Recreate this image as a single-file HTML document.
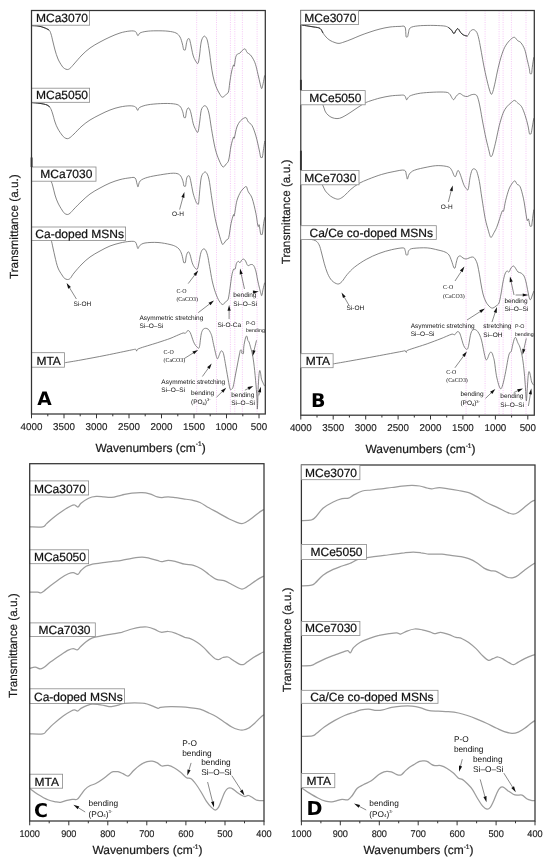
<!DOCTYPE html>
<html lang="en"><head><meta charset="utf-8"><title>FTIR spectra</title>
<style>
html,body{margin:0;padding:0;background:#fff;}
svg{display:block;}
</style></head><body>
<svg width="550" height="862" viewBox="0 0 550 862" text-rendering="geometricPrecision">
<rect x="0" y="0" width="550" height="862" fill="#fff"/>
<line x1="196.7" y1="10.5" x2="196.7" y2="414.0" stroke="#f5c2f5" stroke-width="0.9" stroke-dasharray="1 1.3"/>
<line x1="216.5" y1="10.5" x2="216.5" y2="414.0" stroke="#f5c2f5" stroke-width="0.9" stroke-dasharray="1 1.3"/>
<line x1="230.4" y1="10.5" x2="230.4" y2="414.0" stroke="#f5c2f5" stroke-width="0.9" stroke-dasharray="1 1.3"/>
<line x1="234.8" y1="10.5" x2="234.8" y2="414.0" stroke="#f5c2f5" stroke-width="0.9" stroke-dasharray="1 1.3"/>
<line x1="242.4" y1="10.5" x2="242.4" y2="414.0" stroke="#f5c2f5" stroke-width="0.9" stroke-dasharray="1 1.3"/>
<line x1="257.1" y1="10.5" x2="257.1" y2="414.0" stroke="#f5c2f5" stroke-width="0.9" stroke-dasharray="1 1.3"/>
<path d="M31.6 25.6C32.7 25.7 35.9 25.7 38.0 26.0C40.1 26.3 42.2 26.9 44.0 27.6C45.8 28.3 47.8 28.9 49.0 30.0C50.2 31.1 50.3 32.0 51.0 34.0C51.7 36.0 52.3 39.3 53.0 42.0C53.7 44.7 54.2 47.2 55.0 50.0C55.8 52.8 56.8 56.3 58.0 59.0C59.2 61.7 60.9 64.4 62.0 66.0C63.1 67.6 63.6 67.9 64.5 68.5C65.4 69.1 66.4 69.5 67.3 69.5C68.2 69.5 68.9 69.3 70.0 68.4C71.1 67.5 72.0 66.2 74.0 64.0C76.0 61.8 79.3 57.7 82.0 55.0C84.7 52.3 87.0 50.2 90.0 48.0C93.0 45.8 96.7 43.8 100.0 42.0C103.3 40.2 106.7 38.5 110.0 37.0C113.3 35.5 116.7 34.0 120.0 33.0C123.3 32.0 127.4 31.2 130.0 31.0C132.6 30.8 134.2 30.8 135.5 31.6C136.8 32.4 137.1 35.4 137.8 35.6C138.6 35.8 138.6 33.7 140.0 33.0C141.4 32.3 143.3 31.8 146.0 31.4C148.7 31.0 152.3 30.8 156.0 30.8C159.7 30.8 164.7 30.8 168.0 31.2C171.3 31.6 174.0 32.0 176.0 33.0C178.0 34.0 178.9 35.2 180.0 37.0C181.1 38.8 181.8 41.9 182.4 44.0C183.0 46.1 183.2 48.5 183.6 49.5C183.9 50.5 184.2 50.0 184.5 50.0C184.8 50.0 185.1 50.8 185.4 49.5C185.8 48.3 186.2 44.2 186.6 42.5C187.0 40.8 187.4 39.8 187.7 39.2C188.0 38.5 188.3 38.7 188.6 38.7C188.9 38.7 189.2 38.4 189.5 39.2C189.8 40.0 190.0 40.9 190.6 43.5C191.2 46.1 192.2 52.1 193.0 55.0C193.8 57.9 194.8 59.6 195.6 61.0C196.4 62.4 197.3 64.3 198.0 63.3C198.7 62.3 199.1 58.5 199.6 55.0C200.1 51.5 200.5 45.1 201.2 42.0C201.8 38.9 202.8 37.5 203.5 36.6C204.2 35.7 204.8 36.1 205.5 36.8C206.2 37.5 206.9 38.6 207.5 41.0C208.1 43.4 208.7 47.2 209.3 51.0C209.9 54.8 210.4 59.8 211.0 64.0C211.6 68.2 212.2 72.2 213.0 76.0C213.8 79.8 214.8 83.4 216.0 86.5C217.2 89.6 218.9 92.7 220.0 94.5C221.1 96.3 221.5 97.1 222.4 97.2C223.3 97.3 224.5 95.9 225.5 95.0C226.5 94.1 227.7 94.0 228.4 92.0C229.1 90.0 229.2 86.3 229.7 83.0C230.2 79.7 230.9 75.0 231.5 72.0C232.1 69.0 233.0 66.0 233.5 65.0C234.0 64.0 234.0 67.2 234.3 66.0C234.7 64.8 235.1 59.6 235.6 57.6C236.1 55.6 236.8 54.7 237.5 54.0C238.2 53.3 238.9 53.9 239.7 53.3C240.5 52.7 241.3 51.2 242.2 50.5C243.1 49.8 244.3 48.6 245.1 48.9C245.9 49.2 246.2 51.5 247.1 52.5C248.0 53.5 249.3 53.7 250.4 54.9C251.5 56.1 252.6 57.9 253.6 59.8C254.6 61.7 255.3 63.5 256.1 66.4C256.9 69.3 257.8 73.7 258.6 77.0C259.4 80.3 260.2 84.1 260.7 86.0C261.2 87.9 261.4 88.9 261.8 88.5C262.2 88.1 262.6 85.8 263.1 83.6C263.6 81.4 264.4 76.8 264.6 75.4" fill="none" stroke="#666" stroke-width="0.8" stroke-linejoin="round"/>
<path d="M31.6 102.6C33.0 102.7 37.4 103.0 40.0 103.4C42.6 103.8 45.3 104.3 47.0 105.0C48.7 105.7 49.1 106.1 50.0 107.4C50.9 108.7 51.6 110.6 52.4 113.0C53.2 115.4 54.1 119.3 55.0 122.0C55.9 124.7 56.8 126.8 58.0 129.0C59.2 131.2 60.9 133.6 62.0 135.0C63.1 136.4 63.6 137.0 64.5 137.6C65.4 138.2 66.4 138.7 67.3 138.7C68.2 138.7 68.9 138.4 70.0 137.6C71.1 136.8 72.0 135.9 74.0 134.0C76.0 132.1 79.3 128.3 82.0 126.0C84.7 123.7 87.0 121.9 90.0 120.0C93.0 118.1 96.7 116.3 100.0 114.6C103.3 112.9 106.7 111.3 110.0 110.0C113.3 108.7 116.7 107.7 120.0 107.0C123.3 106.3 127.4 105.8 130.0 105.8C132.6 105.8 134.3 106.2 135.6 107.0C136.9 107.8 137.0 110.3 137.7 110.4C138.4 110.5 138.0 108.3 139.7 107.4C141.4 106.5 144.3 105.4 147.8 104.8C151.3 104.2 156.2 103.8 160.5 103.6C164.8 103.4 170.1 103.4 173.3 103.8C176.5 104.2 178.0 104.6 179.6 105.9C181.2 107.2 182.0 109.8 182.7 111.7C183.4 113.6 183.5 116.2 183.8 117.1C184.1 118.1 184.4 117.6 184.7 117.6C185.0 117.6 185.3 118.3 185.6 117.1C185.9 115.9 186.2 111.9 186.7 110.4C187.2 108.9 187.8 107.7 188.5 107.9C189.2 108.1 189.8 109.2 190.6 111.7C191.4 114.2 192.3 120.2 193.1 123.2C193.9 126.2 194.8 128.0 195.6 129.5C196.4 131.0 197.2 133.2 197.9 132.1C198.6 131.0 198.9 126.8 199.5 123.2C200.1 119.6 200.5 113.2 201.2 110.4C201.9 107.6 203.0 106.7 203.8 106.1C204.7 105.5 205.5 105.4 206.3 106.6C207.2 107.8 208.1 109.4 208.9 113.0C209.8 116.6 210.4 122.4 211.4 128.3C212.4 134.2 213.9 143.3 215.2 148.6C216.5 153.9 217.7 156.9 219.0 160.0C220.3 163.1 221.7 166.2 222.9 166.9C224.1 167.6 225.2 165.1 226.2 163.9C227.2 162.8 227.9 163.0 228.7 160.0C229.5 157.0 230.2 149.8 231.0 146.0C231.8 142.2 232.9 138.5 233.5 137.2C234.1 135.9 233.7 139.7 234.3 138.0C234.9 136.3 235.8 129.9 236.9 127.0C238.0 124.1 239.2 122.2 240.7 120.6C242.2 119.0 244.5 117.4 245.8 117.6C247.1 117.8 247.2 120.6 248.3 121.9C249.4 123.2 250.8 123.4 252.1 125.7C253.4 128.0 254.7 131.9 255.9 135.9C257.1 139.9 258.4 146.4 259.2 149.9C260.0 153.4 260.2 155.8 260.6 157.1C261.0 158.3 261.2 157.5 261.5 157.5C261.8 157.5 262.0 158.5 262.4 157.1C262.8 155.6 263.2 151.3 263.6 148.6C264.0 145.9 264.6 142.3 264.8 141.0" fill="none" stroke="#666" stroke-width="0.8" stroke-linejoin="round"/>
<path d="M47.0 177.5C47.7 178.1 50.0 179.4 51.0 181.0C52.0 182.6 52.3 184.7 53.0 187.0C53.7 189.3 54.2 192.3 55.0 195.0C55.8 197.7 56.8 200.5 58.0 203.0C59.2 205.5 60.9 208.3 62.0 210.0C63.1 211.7 63.6 212.6 64.5 213.3C65.4 214.1 66.4 214.5 67.3 214.5C68.2 214.5 68.9 214.2 70.0 213.3C71.1 212.4 72.0 211.1 74.0 209.0C76.0 206.9 79.3 203.5 82.0 201.0C84.7 198.5 87.0 196.2 90.0 194.0C93.0 191.8 96.7 189.8 100.0 188.0C103.3 186.2 106.7 184.4 110.0 183.0C113.3 181.6 116.7 180.5 120.0 179.6C123.3 178.7 127.5 178.1 130.0 177.8C132.5 177.5 133.9 176.9 135.1 178.0C136.3 179.1 136.6 182.8 137.1 184.2C137.6 185.6 137.6 187.2 138.1 186.7C138.6 186.1 138.6 182.5 140.2 180.9C141.8 179.3 144.4 178.3 147.8 177.3C151.2 176.3 156.2 175.5 160.5 174.8C164.8 174.1 170.1 173.2 173.3 173.2C176.5 173.2 178.0 173.6 179.6 174.8C181.2 176.0 182.0 178.6 182.7 180.4C183.4 182.2 183.5 184.8 183.8 185.8C184.1 186.7 184.4 186.2 184.7 186.2C185.0 186.2 185.3 186.9 185.6 185.8C185.9 184.6 186.2 180.7 186.5 179.1C186.8 177.5 187.3 176.8 187.6 176.2C187.9 175.7 188.2 175.8 188.5 175.8C188.8 175.8 189.1 175.5 189.4 176.2C189.8 177.0 190.0 177.6 190.6 180.4C191.2 183.2 192.3 189.7 193.1 193.1C193.9 196.5 195.0 199.0 195.6 200.7C196.2 202.4 196.4 202.8 196.8 203.4C197.1 203.9 197.4 203.8 197.7 203.8C198.0 203.8 198.3 205.1 198.6 203.4C198.9 201.6 199.1 197.4 199.5 193.1C199.9 188.8 200.5 181.2 201.2 177.8C201.9 174.4 203.0 173.5 203.8 172.7C204.7 171.8 205.5 171.6 206.3 172.7C207.2 173.8 208.1 175.3 208.9 179.1C209.8 182.9 210.4 189.0 211.4 195.6C212.4 202.2 213.9 212.1 215.2 218.5C216.5 224.9 217.9 229.6 219.0 233.8C220.1 238.0 221.3 241.9 222.0 243.6C222.7 245.2 222.6 244.0 222.9 244.0C223.2 244.0 223.2 244.2 223.8 243.6C224.4 242.9 225.4 241.2 226.2 240.2C227.0 239.2 227.9 240.4 228.7 237.6C229.5 234.8 230.2 227.4 231.0 223.6C231.8 219.8 232.9 216.0 233.5 214.7C234.1 213.3 233.7 217.8 234.3 215.5C234.9 213.2 235.8 204.6 236.9 200.7C238.0 196.8 239.4 194.1 240.7 191.8C242.0 189.5 244.1 188.0 244.9 187.1C245.8 186.3 245.5 186.7 245.8 186.7C246.1 186.7 246.3 186.3 246.7 187.1C247.1 188.0 247.4 190.0 248.3 191.8C249.2 193.6 250.8 194.6 252.1 198.2C253.4 201.8 254.9 208.7 255.9 213.4C256.9 218.1 257.4 224.3 258.0 226.2C258.6 228.1 258.8 223.6 259.2 224.9C259.6 226.2 260.2 232.3 260.6 233.9C261.0 235.4 261.2 234.3 261.5 234.3C261.8 234.3 262.0 235.6 262.4 233.9C262.8 232.1 263.2 226.4 263.6 223.6C264.0 220.8 264.6 218.4 264.8 217.3" fill="none" stroke="#666" stroke-width="0.8" stroke-linejoin="round"/>
<path d="M47.0 236.0C47.7 236.7 50.0 238.0 51.0 240.0C52.0 242.0 52.3 245.2 53.0 248.0C53.7 250.8 54.2 253.7 55.0 257.0C55.8 260.3 56.8 265.0 58.0 268.0C59.2 271.0 60.9 273.3 62.0 275.0C63.1 276.7 63.6 277.6 64.5 278.3C65.4 279.1 66.5 279.5 67.5 279.5C68.5 279.5 69.2 279.4 70.3 278.3C71.4 277.2 72.0 275.4 74.0 273.0C76.0 270.6 79.3 266.7 82.0 264.0C84.7 261.3 87.0 259.2 90.0 257.0C93.0 254.8 96.7 252.8 100.0 251.0C103.3 249.2 106.7 247.3 110.0 246.0C113.3 244.7 116.7 243.8 120.0 243.0C123.3 242.2 127.4 241.5 130.0 241.4C132.6 241.3 134.2 241.0 135.5 242.2C136.8 243.4 137.1 247.9 137.8 248.5C138.5 249.1 138.6 246.4 139.8 245.5C141.0 244.6 142.0 243.5 145.0 243.0C148.0 242.5 153.8 242.2 158.0 242.5C162.2 242.8 167.1 243.8 170.0 244.5C172.9 245.2 174.0 245.6 175.5 246.4C177.0 247.2 178.0 247.8 179.1 249.1C180.2 250.4 181.1 252.3 181.8 254.5C182.6 256.7 183.2 260.9 183.6 262.2C184.0 263.6 184.2 262.7 184.5 262.7C184.8 262.7 185.1 263.4 185.4 262.2C185.7 261.1 185.9 257.2 186.4 255.5C186.9 253.8 187.6 252.0 188.2 251.8C188.8 251.6 189.3 252.7 190.0 254.5C190.7 256.3 191.4 260.6 192.2 262.7C192.9 264.8 193.7 266.2 194.5 267.3C195.3 268.4 196.5 270.0 197.3 269.1C198.1 268.2 198.5 264.5 199.1 261.8C199.7 259.1 200.2 254.8 200.9 252.7C201.6 250.6 202.3 249.5 203.1 249.1C203.9 248.7 204.8 248.9 205.5 250.0C206.2 251.1 206.9 252.8 207.6 255.5C208.3 258.2 208.8 262.2 209.6 266.4C210.4 270.6 211.2 276.5 212.2 280.9C213.2 285.3 214.3 289.4 215.5 292.7C216.7 296.0 217.9 298.9 219.1 300.9C220.3 302.9 221.6 304.4 222.7 304.5C223.8 304.6 224.6 302.7 225.5 301.8C226.4 300.9 227.4 301.4 228.2 299.1C228.9 296.8 229.4 292.1 230.0 288.2C230.6 284.3 231.2 278.7 231.8 275.5C232.4 272.3 233.1 270.2 233.6 269.1C234.1 268.0 234.6 270.0 235.1 269.1C235.6 268.2 235.9 264.9 236.4 263.6C236.9 262.3 237.6 261.5 238.2 261.3C238.8 261.1 239.4 262.9 240.0 262.7C240.6 262.5 241.2 260.6 241.8 260.0C242.4 259.4 243.0 259.0 243.6 259.1C244.2 259.2 244.8 259.8 245.5 260.9C246.2 262.0 246.9 264.9 247.8 265.5C248.7 266.1 249.9 264.5 250.9 264.5C251.9 264.5 252.8 264.4 253.6 265.5C254.4 266.6 255.1 268.5 255.8 270.9C256.5 273.3 257.0 277.1 257.6 280.0C258.2 282.9 258.9 285.9 259.5 288.2C260.1 290.5 260.5 292.4 260.9 293.6C261.3 294.8 261.4 296.2 261.8 295.5C262.2 294.8 262.6 291.2 263.1 289.1C263.6 287.0 264.4 283.8 264.6 282.7" fill="none" stroke="#666" stroke-width="0.8" stroke-linejoin="round"/>
<path d="M64.4 362.8C67.2 362.3 73.9 361.3 80.9 360.0C87.9 358.7 97.8 356.9 106.3 355.2C114.8 353.5 126.9 350.9 131.8 349.9C136.7 348.9 134.8 349.2 135.6 349.4C136.4 349.6 136.3 351.2 136.9 351.1C137.5 351.0 135.5 350.0 138.9 348.6C142.3 347.2 152.0 344.5 157.2 342.8C162.4 341.1 166.8 339.7 170.0 338.5C173.2 337.3 174.3 336.6 176.5 335.7C178.7 334.8 181.6 333.4 183.1 333.0C184.6 332.6 184.7 333.7 185.3 333.4C185.9 333.1 186.4 331.9 186.9 331.4C187.4 330.9 187.9 330.4 188.5 330.6C189.1 330.8 189.6 331.5 190.2 332.5C190.8 333.5 191.2 335.3 191.8 336.8C192.4 338.3 192.9 340.2 193.5 341.7C194.1 343.1 194.9 344.5 195.6 345.5C196.3 346.5 197.2 347.2 197.8 347.7C198.4 348.1 198.6 348.6 198.9 348.2C199.2 347.8 199.4 347.0 199.7 345.5C200.0 344.0 200.2 341.2 200.5 339.0C200.8 336.8 201.1 334.1 201.6 332.5C202.1 330.9 202.7 329.9 203.3 329.2C204.0 328.5 204.7 328.3 205.5 328.3C206.3 328.3 207.4 328.5 208.2 329.2C209.0 329.9 209.8 331.2 210.4 332.5C211.0 333.8 211.5 334.8 212.0 336.8C212.5 338.8 213.0 341.9 213.6 344.5C214.2 347.1 214.8 349.9 215.3 352.1C215.8 354.3 216.3 356.4 216.7 357.5C217.1 358.6 217.4 359.0 217.8 358.6C218.2 358.2 218.6 356.6 219.1 355.4C219.6 354.2 220.2 352.2 220.7 351.5C221.2 350.8 221.6 350.6 222.1 351.0C222.6 351.4 223.1 352.4 223.5 353.7C223.9 355.0 224.1 356.6 224.5 358.6C224.9 360.7 225.1 362.0 225.8 366.0C226.5 370.0 228.0 378.8 228.7 382.6C229.4 386.4 229.7 387.8 230.1 388.9C230.5 390.1 230.7 389.4 231.0 389.4C231.3 389.4 231.5 389.5 231.9 388.9C232.3 388.4 232.6 389.1 233.3 386.1C234.0 383.1 235.2 376.0 236.2 371.0C237.2 366.0 238.4 359.4 239.1 356.0C239.8 352.6 239.9 351.6 240.2 350.6C240.5 349.7 240.8 350.2 241.1 350.2C241.4 350.2 241.9 350.2 242.0 350.6C242.1 351.1 241.6 352.7 241.7 353.2C241.8 353.6 242.3 353.6 242.6 353.6C242.9 353.6 243.3 354.3 243.5 353.2C243.7 352.0 243.5 349.2 243.8 346.7C244.1 344.2 245.0 339.8 245.5 338.0C246.0 336.2 246.5 335.8 246.9 336.2C247.3 336.6 247.5 339.3 247.8 340.3C248.2 341.3 248.5 340.8 249.0 342.0C249.5 343.2 250.1 345.7 250.7 347.8C251.3 349.9 251.9 351.7 252.5 354.8C253.1 357.9 253.6 361.4 254.2 366.4C254.8 371.4 255.5 379.2 256.0 385.0C256.5 390.8 256.9 397.2 257.1 401.2C257.3 405.1 257.2 410.6 257.4 408.7C257.6 406.8 257.9 395.1 258.1 389.6C258.4 384.1 258.6 378.9 258.9 375.7C259.2 372.5 259.4 370.9 259.7 370.5C260.0 370.1 260.3 371.9 260.6 373.4C260.9 374.8 261.1 377.7 261.5 379.2C261.9 380.7 262.4 381.5 262.9 382.6C263.4 383.8 264.3 385.5 264.6 386.1" fill="none" stroke="#666" stroke-width="0.8" stroke-linejoin="round"/>
<path d="M31.6 25.6C32.7 25.7 35.9 25.7 38.0 26.0C40.1 26.3 42.2 26.9 44.0 27.6C45.8 28.3 48.2 29.6 49.0 30.0" fill="none" stroke="#2a2a2a" stroke-width="0.9" stroke-linejoin="round"/>
<path d="M31.6 102.6C33.0 102.7 37.4 103.0 40.0 103.4C42.6 103.8 45.3 104.3 47.0 105.0C48.7 105.7 49.5 107.0 50.0 107.4" fill="none" stroke="#2a2a2a" stroke-width="0.9" stroke-linejoin="round"/>
<rect x="31.5" y="10.5" width="58.1" height="14.7" fill="#fff" stroke="#8a8a8a" stroke-width="0.8"/>
<text x="36.0" y="22.2" font-family="&quot;Liberation Sans&quot;, Arial, sans-serif" font-size="12.0" font-weight="normal" text-anchor="start" fill="#111" letter-spacing="0" stroke="#111" stroke-width="0.22">MCa3070</text>
<rect x="31.5" y="88.2" width="58.1" height="14.1" fill="#fff" stroke="#8a8a8a" stroke-width="0.8"/>
<text x="36.0" y="99.1" font-family="&quot;Liberation Sans&quot;, Arial, sans-serif" font-size="12.0" font-weight="normal" text-anchor="start" fill="#111" letter-spacing="0" stroke="#111" stroke-width="0.22">MCa5050</text>
<rect x="31.5" y="167.0" width="64.5" height="14.2" fill="#fff" stroke="#8a8a8a" stroke-width="0.8"/>
<text x="40.3" y="178.4" font-family="&quot;Liberation Sans&quot;, Arial, sans-serif" font-size="12.0" font-weight="normal" text-anchor="start" fill="#111" letter-spacing="0" stroke="#111" stroke-width="0.22">MCa7030</text>
<rect x="31.5" y="227.0" width="94.1" height="13.4" fill="#fff" stroke="#8a8a8a" stroke-width="0.8"/>
<text x="35.3" y="237.5" font-family="&quot;Liberation Sans&quot;, Arial, sans-serif" font-size="12.0" font-weight="normal" text-anchor="start" fill="#111" letter-spacing="0" stroke="#111" stroke-width="0.22">Ca-doped MSNs</text>
<rect x="31.5" y="352.7" width="32.9" height="14.5" fill="#fff" stroke="#8a8a8a" stroke-width="0.8"/>
<text x="36.4" y="364.5" font-family="&quot;Liberation Sans&quot;, Arial, sans-serif" font-size="12.0" font-weight="normal" text-anchor="start" fill="#111" letter-spacing="0" stroke="#111" stroke-width="0.22">MTA</text>
<text x="172.0" y="216.2" font-family="&quot;Liberation Sans&quot;, Arial, sans-serif" font-size="6.5" font-weight="normal" text-anchor="start" fill="#111" >O-H</text>
<line x1="179.6" y1="209.6" x2="182.9" y2="197.5" stroke="#3a3a3a" stroke-width="0.6"/>
<polygon points="184.4,192.0 184.4,197.9 181.4,197.1" fill="#111"/>
<text x="73.6" y="306.0" font-family="&quot;Liberation Sans&quot;, Arial, sans-serif" font-size="6.5" font-weight="normal" text-anchor="start" fill="#111" >Si-OH</text>
<line x1="76.4" y1="299.0" x2="69.6" y2="287.9" stroke="#3a3a3a" stroke-width="0.6"/>
<polygon points="66.6,283.0 70.9,287.0 68.2,288.7" fill="#111"/>
<text x="176.4" y="293.0" font-family="&quot;Liberation Serif&quot;, serif" font-size="5.9" font-weight="normal" text-anchor="start" fill="#111" >C-O</text>
<text x="176.4" y="300.7" font-family="&quot;Liberation Serif&quot;, serif" font-size="5.9" font-weight="normal" text-anchor="start" fill="#111" >(CaCO3)</text>
<line x1="188.2" y1="283.6" x2="194.8" y2="274.9" stroke="#3a3a3a" stroke-width="0.6"/>
<polygon points="198.2,270.4 196.0,275.9 193.5,274.0" fill="#111"/>
<text x="139.4" y="320.2" font-family="&quot;Liberation Sans&quot;, Arial, sans-serif" font-size="6.5" font-weight="normal" text-anchor="start" fill="#111" >Asymmetric stretching</text>
<text x="139.4" y="328.2" font-family="&quot;Liberation Sans&quot;, Arial, sans-serif" font-size="6.5" font-weight="normal" text-anchor="start" fill="#111" >Si–O–Si</text>
<line x1="198.2" y1="312.7" x2="209.5" y2="304.0" stroke="#3a3a3a" stroke-width="0.6"/>
<polygon points="214.0,300.5 210.5,305.3 208.5,302.7" fill="#111"/>
<text x="217.6" y="326.6" font-family="&quot;Liberation Sans&quot;, Arial, sans-serif" font-size="6.5" font-weight="normal" text-anchor="start" fill="#111" >Si-O-Ca</text>
<line x1="229.1" y1="319.1" x2="229.1" y2="310.7" stroke="#3a3a3a" stroke-width="0.6"/>
<polygon points="229.1,305.0 230.7,310.7 227.5,310.7" fill="#111"/>
<text x="233.3" y="297.2" font-family="&quot;Liberation Sans&quot;, Arial, sans-serif" font-size="6.5" font-weight="normal" text-anchor="start" fill="#111" >bending</text>
<text x="233.3" y="305.8" font-family="&quot;Liberation Sans&quot;, Arial, sans-serif" font-size="6.5" font-weight="normal" text-anchor="start" fill="#111" >Si–O–Si</text>
<line x1="244.5" y1="289.0" x2="241.2" y2="274.1" stroke="#3a3a3a" stroke-width="0.6"/>
<polygon points="240.0,268.5 242.8,273.7 239.7,274.4" fill="#111"/>
<line x1="252.7" y1="292.2" x2="253.0" y2="292.2" stroke="#3a3a3a" stroke-width="0.6"/>
<polygon points="258.7,291.5 253.2,293.7 252.9,290.6" fill="#111"/>
<text x="246.0" y="325.0" font-family="&quot;Liberation Sans&quot;, Arial, sans-serif" font-size="5.3" font-weight="normal" text-anchor="start" fill="#111" >P-O</text>
<text x="246.0" y="332.3" font-family="&quot;Liberation Sans&quot;, Arial, sans-serif" font-size="5.3" font-weight="normal" text-anchor="start" fill="#111" >bending</text>
<line x1="256.5" y1="340.3" x2="254.0" y2="350.5" stroke="#3a3a3a" stroke-width="0.6"/>
<polygon points="252.7,356.0 252.5,350.1 255.6,350.8" fill="#111"/>
<text x="163.5" y="354.0" font-family="&quot;Liberation Serif&quot;, serif" font-size="5.9" font-weight="normal" text-anchor="start" fill="#111" >C-O</text>
<text x="163.5" y="362.2" font-family="&quot;Liberation Serif&quot;, serif" font-size="5.9" font-weight="normal" text-anchor="start" fill="#111" >(CaCO3)</text>
<line x1="184.2" y1="358.6" x2="193.3" y2="352.9" stroke="#3a3a3a" stroke-width="0.6"/>
<polygon points="198.1,349.9 194.1,354.3 192.4,351.6" fill="#111"/>
<text x="161.3" y="383.8" font-family="&quot;Liberation Sans&quot;, Arial, sans-serif" font-size="6.5" font-weight="normal" text-anchor="start" fill="#111" >Asymmetric stretching</text>
<text x="161.3" y="391.8" font-family="&quot;Liberation Sans&quot;, Arial, sans-serif" font-size="6.5" font-weight="normal" text-anchor="start" fill="#111" >Si–O–Si</text>
<line x1="202.4" y1="376.5" x2="208.4" y2="368.1" stroke="#3a3a3a" stroke-width="0.6"/>
<polygon points="211.7,363.5 209.7,369.1 207.1,367.2" fill="#111"/>
<text x="191.0" y="395.1" font-family="&quot;Liberation Sans&quot;, Arial, sans-serif" font-size="6.5" font-weight="normal" text-anchor="start" fill="#111" >bending</text>
<text x="191" y="403.8" font-family="&quot;Liberation Sans&quot;, Arial, sans-serif" font-size="6.5" fill="#111">(PO<tspan font-size="4" dy="0.8">4</tspan><tspan dy="-0.8">)</tspan><tspan font-size="4" dy="-2.5">3-</tspan></text>
<line x1="216.5" y1="397.3" x2="222.1" y2="391.7" stroke="#3a3a3a" stroke-width="0.6"/>
<polygon points="226.2,387.7 223.3,392.8 221.0,390.6" fill="#111"/>
<text x="231.2" y="396.9" font-family="&quot;Liberation Sans&quot;, Arial, sans-serif" font-size="6.5" font-weight="normal" text-anchor="start" fill="#111" >bending</text>
<text x="231.2" y="404.9" font-family="&quot;Liberation Sans&quot;, Arial, sans-serif" font-size="6.5" font-weight="normal" text-anchor="start" fill="#111" >Si–O–Si</text>
<line x1="244.9" y1="390.2" x2="248.2" y2="388.5" stroke="#3a3a3a" stroke-width="0.6"/>
<polygon points="253.3,386.0 248.9,390.0 247.5,387.1" fill="#111"/>
<line x1="258.9" y1="395.4" x2="259.6" y2="392.3" stroke="#3a3a3a" stroke-width="0.6"/>
<polygon points="260.8,386.7 261.1,392.6 258.0,391.9" fill="#111"/>
<rect x="31.5" y="10.5" width="233.8" height="403.5" fill="none" stroke="#333" stroke-width="1.25"/>
<line x1="31.6" y1="157.5" x2="31.6" y2="167" stroke="#333" stroke-width="1.9"/>
<line x1="31.5" y1="414.0" x2="31.5" y2="418.3" stroke="#333" stroke-width="1"/>
<text x="31.5" y="429.9" font-family="&quot;Liberation Sans&quot;, Arial, sans-serif" font-size="9.9" font-weight="normal" text-anchor="middle" fill="#222" textLength="21.8" lengthAdjust="spacingAndGlyphs" stroke="#222" stroke-width="0.15">4000</text>
<line x1="64.0" y1="414.0" x2="64.0" y2="418.3" stroke="#333" stroke-width="1"/>
<text x="64.0" y="429.9" font-family="&quot;Liberation Sans&quot;, Arial, sans-serif" font-size="9.9" font-weight="normal" text-anchor="middle" fill="#222" textLength="21.8" lengthAdjust="spacingAndGlyphs" stroke="#222" stroke-width="0.15">3500</text>
<line x1="96.5" y1="414.0" x2="96.5" y2="418.3" stroke="#333" stroke-width="1"/>
<text x="96.5" y="429.9" font-family="&quot;Liberation Sans&quot;, Arial, sans-serif" font-size="9.9" font-weight="normal" text-anchor="middle" fill="#222" textLength="21.8" lengthAdjust="spacingAndGlyphs" stroke="#222" stroke-width="0.15">3000</text>
<line x1="129.0" y1="414.0" x2="129.0" y2="418.3" stroke="#333" stroke-width="1"/>
<text x="129.0" y="429.9" font-family="&quot;Liberation Sans&quot;, Arial, sans-serif" font-size="9.9" font-weight="normal" text-anchor="middle" fill="#222" textLength="21.8" lengthAdjust="spacingAndGlyphs" stroke="#222" stroke-width="0.15">2500</text>
<line x1="161.5" y1="414.0" x2="161.5" y2="418.3" stroke="#333" stroke-width="1"/>
<text x="161.5" y="429.9" font-family="&quot;Liberation Sans&quot;, Arial, sans-serif" font-size="9.9" font-weight="normal" text-anchor="middle" fill="#222" textLength="21.8" lengthAdjust="spacingAndGlyphs" stroke="#222" stroke-width="0.15">2000</text>
<line x1="194.0" y1="414.0" x2="194.0" y2="418.3" stroke="#333" stroke-width="1"/>
<text x="194.0" y="429.9" font-family="&quot;Liberation Sans&quot;, Arial, sans-serif" font-size="9.9" font-weight="normal" text-anchor="middle" fill="#222" textLength="21.8" lengthAdjust="spacingAndGlyphs" stroke="#222" stroke-width="0.15">1500</text>
<line x1="226.5" y1="414.0" x2="226.5" y2="418.3" stroke="#333" stroke-width="1"/>
<text x="226.5" y="429.9" font-family="&quot;Liberation Sans&quot;, Arial, sans-serif" font-size="9.9" font-weight="normal" text-anchor="middle" fill="#222" textLength="21.8" lengthAdjust="spacingAndGlyphs" stroke="#222" stroke-width="0.15">1000</text>
<line x1="259.0" y1="414.0" x2="259.0" y2="418.3" stroke="#333" stroke-width="1"/>
<text x="259.0" y="429.9" font-family="&quot;Liberation Sans&quot;, Arial, sans-serif" font-size="9.9" font-weight="normal" text-anchor="middle" fill="#222" textLength="16.3" lengthAdjust="spacingAndGlyphs" stroke="#222" stroke-width="0.15">500</text>
<line x1="47.8" y1="414.0" x2="47.8" y2="416.3" stroke="#333" stroke-width="1"/>
<line x1="80.2" y1="414.0" x2="80.2" y2="416.3" stroke="#333" stroke-width="1"/>
<line x1="112.8" y1="414.0" x2="112.8" y2="416.3" stroke="#333" stroke-width="1"/>
<line x1="145.2" y1="414.0" x2="145.2" y2="416.3" stroke="#333" stroke-width="1"/>
<line x1="177.8" y1="414.0" x2="177.8" y2="416.3" stroke="#333" stroke-width="1"/>
<line x1="210.2" y1="414.0" x2="210.2" y2="416.3" stroke="#333" stroke-width="1"/>
<line x1="242.8" y1="414.0" x2="242.8" y2="416.3" stroke="#333" stroke-width="1"/>
<text x="150.6" y="451.8" font-family="&quot;Liberation Sans&quot;, Arial, sans-serif" font-size="12.0" text-anchor="middle" fill="#1a1a1a" stroke="#1a1a1a" stroke-width="0.2">Wavenumbers (cm<tspan font-size="6.7" dy="-5.6">-1</tspan><tspan dy="5.6">)</tspan></text>
<text transform="translate(17.6 226.7) rotate(-90)" font-family="&quot;Liberation Sans&quot;, Arial, sans-serif" font-size="11.75" text-anchor="middle" fill="#1a1a1a" stroke="#1a1a1a" stroke-width="0.2">Transmittance (a.u.)</text>
<text x="37.2" y="404.5" font-family="&quot;DejaVu Sans&quot;, Verdana, sans-serif" font-size="18.7" font-weight="bold" text-anchor="start" fill="#000" >A</text>
<line x1="466.1" y1="10.5" x2="466.1" y2="415.2" stroke="#f5c2f5" stroke-width="0.9" stroke-dasharray="1 1.3"/>
<line x1="485.1" y1="10.5" x2="485.1" y2="415.2" stroke="#f5c2f5" stroke-width="0.9" stroke-dasharray="1 1.3"/>
<line x1="499.1" y1="10.5" x2="499.1" y2="415.2" stroke="#f5c2f5" stroke-width="0.9" stroke-dasharray="1 1.3"/>
<line x1="503.1" y1="10.5" x2="503.1" y2="415.2" stroke="#f5c2f5" stroke-width="0.9" stroke-dasharray="1 1.3"/>
<line x1="511.4" y1="10.5" x2="511.4" y2="415.2" stroke="#f5c2f5" stroke-width="0.9" stroke-dasharray="1 1.3"/>
<line x1="526.0" y1="10.5" x2="526.0" y2="415.2" stroke="#f5c2f5" stroke-width="0.9" stroke-dasharray="1 1.3"/>
<path d="M301.6 25.0C302.7 25.2 305.9 25.7 308.0 26.0C310.1 26.3 312.0 26.6 314.0 27.0C316.0 27.4 318.5 27.4 320.0 28.4C321.5 29.4 322.0 31.6 323.0 33.0C324.0 34.4 324.8 35.8 326.0 37.0C327.2 38.2 328.5 39.5 330.0 40.4C331.5 41.3 333.5 42.1 335.0 42.6C336.5 43.1 337.5 43.5 339.0 43.4C340.5 43.3 341.8 42.7 344.0 42.0C346.2 41.3 349.3 40.1 352.0 39.0C354.7 37.9 357.0 36.8 360.0 35.6C363.0 34.4 366.7 33.1 370.0 32.0C373.3 30.9 376.7 29.8 380.0 29.0C383.3 28.2 386.7 27.4 390.0 27.0C393.3 26.6 397.5 26.4 400.0 26.4C402.5 26.4 404.0 25.3 405.0 27.0C406.0 28.7 405.7 34.7 406.0 36.3C406.3 38.0 406.6 36.8 406.9 36.8C407.2 36.8 407.5 37.0 407.8 36.3C408.0 35.7 408.0 34.4 408.4 33.0C408.8 31.6 408.6 29.1 410.2 27.9C411.8 26.7 414.4 26.3 417.8 25.9C421.2 25.5 426.2 25.4 430.5 25.4C434.8 25.4 440.3 25.6 443.3 25.9C446.3 26.2 446.9 26.6 448.3 27.4C449.7 28.1 450.9 29.5 451.7 30.4C452.5 31.3 452.6 32.5 453.0 33.0C453.4 33.6 453.6 33.5 453.9 33.5C454.2 33.5 454.4 33.6 454.8 33.0C455.1 32.5 455.5 31.1 456.0 30.4C456.5 29.7 457.2 28.3 458.0 28.7C458.8 29.1 459.7 31.4 460.6 32.5C461.5 33.5 462.5 34.4 463.6 35.0C464.7 35.6 466.3 36.5 467.4 36.0C468.5 35.5 469.1 32.8 470.0 31.7C470.9 30.6 471.6 29.9 472.5 29.7C473.4 29.5 474.2 29.6 475.1 30.4C476.0 31.2 476.8 31.7 477.6 34.3C478.5 36.8 479.4 41.5 480.2 45.7C481.0 49.9 481.9 55.2 482.7 59.7C483.5 64.2 484.2 68.0 485.2 72.4C486.2 76.9 487.5 82.8 488.5 86.4C489.5 90.0 490.4 93.2 491.1 94.1C491.8 94.9 492.2 93.6 492.9 91.5C493.6 89.4 494.5 85.1 495.4 81.3C496.2 77.5 496.9 73.0 498.0 68.6C499.1 64.1 500.5 58.4 501.8 54.6C503.1 50.8 504.1 48.2 505.6 45.7C507.1 43.2 509.2 40.8 510.7 39.4C512.2 38.0 513.4 37.1 514.5 37.3C515.6 37.5 516.5 39.7 517.6 40.6C518.7 41.5 519.7 41.2 520.9 42.7C522.1 44.2 523.7 46.7 524.7 49.5C525.8 52.3 526.4 56.5 527.2 59.7C528.0 62.9 528.8 66.3 529.3 68.6C529.8 70.9 529.6 72.4 529.9 73.2C530.1 74.1 530.5 73.7 530.8 73.7C531.1 73.7 531.4 74.3 531.7 73.2C531.9 72.2 531.9 70.0 532.3 67.3C532.6 64.6 533.5 58.9 533.8 57.2" fill="none" stroke="#666" stroke-width="0.8" stroke-linejoin="round"/>
<path d="M319.0 101.0C319.7 101.7 322.0 103.3 323.0 105.0C324.0 106.7 324.2 109.3 325.0 111.0C325.8 112.7 326.8 113.9 328.0 115.0C329.2 116.1 330.5 117.0 332.0 117.6C333.5 118.2 335.3 118.6 337.0 118.6C338.7 118.6 340.2 118.2 342.0 117.4C343.8 116.6 346.0 115.2 348.0 114.0C350.0 112.8 352.0 111.3 354.0 110.0C356.0 108.7 358.2 107.2 360.0 106.0C361.8 104.8 363.3 103.8 365.0 103.0C366.7 102.2 367.5 101.8 370.0 101.0C372.5 100.2 376.7 98.8 380.0 98.0C383.3 97.2 386.7 96.5 390.0 96.0C393.3 95.5 397.6 95.3 400.0 95.2C402.4 95.1 403.5 94.8 404.6 95.6C405.7 96.4 406.0 99.5 406.6 99.8C407.2 100.1 407.6 98.0 408.4 97.3C409.2 96.5 409.5 96.0 411.5 95.3C413.5 94.6 416.8 93.7 420.4 93.2C424.0 92.7 428.9 92.4 433.1 92.2C437.3 92.0 443.1 91.9 445.8 92.2C448.6 92.5 448.5 93.0 449.6 94.0C450.7 95.0 451.5 97.4 452.2 98.3C452.9 99.2 453.2 100.0 453.9 99.6C454.6 99.2 455.5 96.8 456.5 95.8C457.5 94.8 458.6 93.5 459.8 93.5C461.0 93.5 462.3 95.3 463.6 95.8C464.9 96.3 466.1 96.7 467.4 96.5C468.7 96.3 469.9 95.1 471.2 94.8C472.5 94.5 474.0 94.1 475.1 94.5C476.2 94.9 476.8 95.0 477.6 97.3C478.5 99.5 479.4 103.9 480.2 108.0C481.0 112.1 481.7 116.9 482.7 122.0C483.7 127.1 484.9 133.6 486.0 138.5C487.1 143.4 488.4 148.3 489.1 151.2C489.8 154.1 489.9 155.0 490.2 155.9C490.5 156.7 490.8 156.3 491.1 156.3C491.4 156.3 491.7 156.5 492.0 155.9C492.3 155.2 492.4 155.2 493.1 152.5C493.8 149.8 495.2 144.2 496.2 139.8C497.2 135.4 498.0 130.2 499.2 125.8C500.4 121.3 501.8 116.3 503.1 113.1C504.4 109.9 505.5 108.5 506.9 106.7C508.3 104.9 510.2 103.5 511.5 102.4C512.8 101.4 513.5 100.3 514.5 100.4C515.5 100.5 516.4 101.9 517.6 102.9C518.8 104.0 520.3 104.6 521.6 106.7C522.9 108.8 524.1 112.4 525.2 115.6C526.3 118.8 527.3 122.8 528.0 125.8C528.7 128.8 529.0 132.1 529.4 133.5C529.8 134.8 530.0 133.9 530.3 133.9C530.6 133.9 530.9 134.6 531.2 133.5C531.5 132.3 531.9 129.6 532.3 127.1C532.7 124.6 533.5 119.7 533.8 118.2" fill="none" stroke="#666" stroke-width="0.8" stroke-linejoin="round"/>
<path d="M319.0 180.0C319.6 180.8 321.3 183.2 322.4 185.0C323.5 186.8 324.0 189.2 325.4 191.0C326.8 192.8 328.8 194.8 330.5 196.1C332.2 197.4 334.1 198.2 335.6 198.7C337.1 199.2 337.9 199.4 339.4 198.9C340.9 198.4 342.6 197.2 344.5 195.6C346.4 194.0 348.5 191.3 350.9 189.3C353.3 187.3 356.0 185.1 359.0 183.4C362.0 181.7 365.0 180.6 368.7 179.1C372.4 177.6 377.2 175.8 381.4 174.5C385.6 173.2 390.3 172.2 394.1 171.5C397.9 170.8 402.2 169.6 404.3 170.2C406.4 170.8 405.9 173.8 406.4 175.3C406.9 176.8 406.9 179.3 407.4 179.1C407.9 178.9 408.2 175.5 409.4 174.0C410.6 172.5 411.5 171.3 414.5 170.2C417.5 169.0 423.2 167.9 427.2 167.1C431.1 166.3 434.7 165.6 438.2 165.6C441.7 165.6 446.1 166.1 448.3 166.9C450.6 167.7 450.8 168.8 451.7 170.2C452.6 171.6 453.3 174.2 453.9 175.3C454.5 176.4 454.9 177.1 455.5 176.5C456.1 175.9 456.8 172.5 457.3 171.5C457.8 170.5 457.9 170.1 458.5 170.7C459.1 171.3 459.8 173.1 460.6 175.3C461.5 177.6 462.7 182.0 463.6 184.2C464.5 186.4 465.4 187.7 466.2 188.5C467.0 189.3 467.6 191.1 468.2 189.3C468.8 187.5 469.4 181.0 470.0 177.8C470.6 174.6 471.3 171.7 472.0 170.2C472.7 168.7 473.5 168.7 474.3 168.9C475.1 169.1 476.0 169.4 476.8 171.5C477.6 173.6 478.5 177.2 479.4 181.6C480.2 186.0 480.9 192.0 481.9 198.2C482.9 204.3 484.1 213.0 485.2 218.5C486.3 224.0 487.7 228.2 488.5 231.2C489.3 234.2 489.8 235.7 490.2 236.7C490.6 237.6 490.8 237.1 491.1 237.1C491.4 237.1 491.6 237.2 492.0 236.7C492.4 236.1 492.6 235.3 493.4 233.8C494.2 232.3 495.6 230.0 496.7 227.4C497.8 224.8 498.8 221.2 499.7 218.5C500.6 215.8 501.6 212.2 502.3 210.9C503.0 209.6 503.1 212.6 503.6 210.9C504.2 209.2 504.7 204.3 505.6 200.7C506.5 197.1 507.8 192.3 508.9 189.3C510.0 186.3 511.5 184.3 512.5 182.9C513.5 181.5 514.2 180.7 515.0 180.9C515.8 181.1 516.1 183.2 517.0 184.2C517.9 185.2 519.0 184.4 520.1 186.7C521.2 189.0 522.4 193.8 523.4 198.2C524.4 202.6 525.3 209.7 525.9 213.4C526.5 217.1 526.8 219.7 527.2 220.6C527.6 221.5 528.0 218.1 528.5 219.0C529.0 219.9 529.5 224.6 529.9 225.8C530.3 226.9 530.5 226.2 530.8 226.2C531.1 226.2 531.4 226.6 531.7 225.8C531.9 224.9 531.9 223.8 532.3 221.1C532.6 218.4 533.5 211.5 533.8 209.6" fill="none" stroke="#666" stroke-width="0.8" stroke-linejoin="round"/>
<path d="M307.0 238.6C307.8 238.8 310.0 239.1 311.5 239.5C313.0 239.9 314.5 239.9 315.8 240.8C317.1 241.7 318.1 242.8 319.1 244.8C320.1 246.8 320.8 249.9 321.6 253.0C322.5 256.1 323.2 259.8 324.2 263.2C325.2 266.6 326.2 270.4 327.5 273.3C328.8 276.2 330.1 278.7 331.8 280.5C333.5 282.3 336.0 283.8 337.7 284.0C339.4 284.2 340.4 283.1 342.0 281.5C343.6 279.9 345.0 277.0 347.1 274.6C349.2 272.2 351.5 269.5 354.7 267.0C357.9 264.5 362.2 261.6 366.2 259.4C370.2 257.1 374.7 255.1 378.9 253.5C383.1 251.9 387.6 250.6 391.6 249.7C395.6 248.8 400.9 247.8 403.1 247.9C405.4 248.0 404.6 249.3 405.1 250.4C405.6 251.5 405.7 253.8 406.0 254.6C406.3 255.3 406.6 255.0 406.9 255.0C407.2 255.0 407.5 255.3 407.8 254.6C408.1 253.8 408.0 251.4 408.9 250.4C409.8 249.4 410.1 248.8 413.2 248.4C416.2 248.0 423.1 247.6 427.2 247.9C431.3 248.2 435.0 249.3 438.0 250.0C441.0 250.7 443.2 251.2 445.0 252.0C446.8 252.8 447.9 253.5 449.0 255.0C450.1 256.5 450.8 259.0 451.6 261.0C452.4 263.0 453.0 265.8 453.6 267.0C454.2 268.2 454.5 268.8 455.0 268.0C455.5 267.2 455.9 263.8 456.4 262.0C456.9 260.2 457.3 258.0 458.0 257.0C458.7 256.0 459.6 255.8 460.4 256.0C461.2 256.2 462.1 257.5 463.0 258.0C463.9 258.5 465.0 259.0 466.0 259.0C467.0 259.0 468.0 258.3 469.0 258.0C470.0 257.7 471.1 257.0 472.0 257.0C472.9 257.0 473.6 257.0 474.4 258.0C475.2 259.0 476.2 260.7 477.0 263.0C477.8 265.3 478.3 268.5 479.0 272.0C479.7 275.5 480.3 280.3 481.0 284.0C481.7 287.7 482.2 291.0 483.0 294.0C483.8 297.0 484.8 299.8 486.0 302.0C487.2 304.2 488.8 306.0 490.0 307.0C491.2 308.0 492.0 308.2 493.0 308.0C494.0 307.8 495.0 306.8 496.0 306.0C497.0 305.2 498.2 305.0 499.0 303.0C499.8 301.0 500.3 297.5 501.0 294.0C501.7 290.5 502.3 285.3 503.0 282.0C503.7 278.7 504.3 275.8 505.0 274.0C505.7 272.2 506.3 271.3 507.0 271.0C507.7 270.7 508.3 272.5 509.0 272.0C509.7 271.5 510.2 269.0 511.0 268.0C511.8 267.0 512.8 265.8 513.6 266.0C514.4 266.2 515.3 268.0 516.0 269.0C516.7 270.0 517.2 271.3 518.0 272.0C518.8 272.7 520.0 272.3 521.0 273.0C522.0 273.7 523.2 274.5 524.0 276.0C524.8 277.5 525.3 279.3 526.0 282.0C526.7 284.7 527.4 289.2 528.0 292.0C528.6 294.8 529.1 297.8 529.6 299.0C530.1 300.2 530.5 299.7 531.0 299.0C531.5 298.3 531.9 296.3 532.4 295.0C532.9 293.7 533.6 291.7 533.8 291.0" fill="none" stroke="#666" stroke-width="0.8" stroke-linejoin="round"/>
<path d="M333.1 363.9C336.1 363.4 343.7 362.1 350.9 360.8C358.1 359.5 367.8 357.8 376.3 356.2C384.8 354.6 397.0 352.3 401.8 351.4C406.6 350.5 404.3 350.4 405.1 350.6C405.9 350.8 405.9 352.5 406.4 352.4C406.9 352.3 404.6 351.5 408.1 350.1C411.6 348.7 421.9 345.7 427.2 343.8C432.5 341.9 436.8 340.2 440.0 339.0C443.2 337.8 444.5 337.1 446.5 336.3C448.5 335.5 450.6 334.4 452.0 334.1C453.4 333.9 454.0 335.1 454.7 334.8C455.4 334.5 455.8 333.0 456.4 332.5C456.9 332.0 457.5 331.5 458.0 331.6C458.5 331.7 459.1 331.9 459.6 333.0C460.2 334.1 460.8 336.2 461.3 337.9C461.9 339.6 462.4 341.8 462.9 343.4C463.4 344.9 463.9 346.2 464.5 347.2C465.1 348.2 466.1 349.3 466.7 349.4C467.3 349.5 467.7 348.9 468.1 347.7C468.5 346.5 468.8 344.3 469.2 342.3C469.6 340.3 469.9 337.5 470.3 335.7C470.7 333.9 471.1 332.4 471.6 331.4C472.1 330.4 472.7 330.0 473.3 329.7C473.9 329.4 474.8 329.4 475.5 329.7C476.2 330.0 476.9 330.5 477.6 331.4C478.3 332.3 479.2 333.8 479.8 335.2C480.4 336.6 480.9 338.0 481.5 340.1C482.1 342.2 482.6 345.1 483.1 347.7C483.6 350.2 484.2 353.4 484.7 355.4C485.2 357.4 485.5 359.2 486.0 359.7C486.5 360.2 487.0 359.5 487.5 358.6C488.0 357.7 488.6 355.4 489.1 354.3C489.6 353.2 490.2 352.3 490.7 352.1C491.2 351.9 491.6 352.3 492.1 353.2C492.6 354.1 493.1 356.1 493.5 357.5C493.9 358.9 494.0 358.9 494.5 361.9C495.0 364.9 495.7 371.8 496.4 375.5C497.1 379.2 497.9 382.0 498.5 384.2C499.1 386.4 499.8 387.9 500.3 388.5C500.9 389.1 501.2 388.9 501.8 387.5C502.4 386.1 503.3 382.9 504.0 379.8C504.7 376.7 505.5 372.7 506.2 368.9C506.9 365.1 507.8 359.6 508.4 356.9C509.0 354.2 509.4 353.4 509.9 352.5C510.4 351.6 510.7 352.8 511.2 351.5C511.7 350.2 512.2 347.1 512.7 344.9C513.2 342.7 514.0 339.6 514.5 338.4C515.0 337.2 515.5 337.2 516.0 337.9C516.5 338.6 517.1 341.2 517.8 342.7C518.4 344.2 519.2 344.9 519.9 347.1C520.6 349.3 521.4 352.2 522.1 355.8C522.8 359.4 523.4 364.2 523.9 368.9C524.4 373.6 524.9 379.5 525.2 384.2C525.6 388.9 525.8 394.6 526.0 397.3C526.2 400.0 526.3 402.0 526.5 400.5C526.7 399.0 527.0 392.7 527.3 388.5C527.6 384.3 527.9 378.3 528.2 375.5C528.5 372.7 528.7 371.5 529.1 371.5C529.5 371.5 530.0 373.8 530.4 375.5C530.8 377.2 531.1 380.4 531.7 382.0C532.3 383.6 533.4 384.8 533.8 385.3" fill="none" stroke="#666" stroke-width="0.8" stroke-linejoin="round"/>
<path d="M301.6 25.0C302.7 25.2 305.9 25.7 308.0 26.0C310.1 26.3 312.0 26.6 314.0 27.0C316.0 27.4 318.5 27.4 320.0 28.4C321.5 29.4 322.5 32.2 323.0 33.0" fill="none" stroke="#2a2a2a" stroke-width="0.9" stroke-linejoin="round"/>
<path d="M448.3 27.4C448.9 27.9 450.8 29.4 451.7 30.4C452.6 31.4 453.2 33.5 453.9 33.5C454.6 33.5 455.3 31.2 456.0 30.4C456.7 29.6 457.2 28.3 458.0 28.7C458.8 29.1 459.7 31.4 460.6 32.5C461.5 33.5 462.5 34.4 463.6 35.0C464.7 35.6 466.8 35.8 467.4 36.0" fill="none" stroke="#2a2a2a" stroke-width="0.9" stroke-linejoin="round"/>
<text x="440.7" y="208.8" font-family="&quot;Liberation Sans&quot;, Arial, sans-serif" font-size="6.5" font-weight="normal" text-anchor="start" fill="#111" >O-H</text>
<line x1="448.3" y1="202.0" x2="451.2" y2="190.9" stroke="#3a3a3a" stroke-width="0.6"/>
<polygon points="452.7,185.4 452.8,191.3 449.7,190.5" fill="#111"/>
<text x="346.6" y="310.3" font-family="&quot;Liberation Sans&quot;, Arial, sans-serif" font-size="6.5" font-weight="normal" text-anchor="start" fill="#111" >Si-OH</text>
<line x1="348.9" y1="305.2" x2="344.4" y2="297.3" stroke="#3a3a3a" stroke-width="0.6"/>
<polygon points="341.5,292.4 345.7,296.5 343.0,298.1" fill="#111"/>
<text x="443.0" y="289.0" font-family="&quot;Liberation Serif&quot;, serif" font-size="5.9" font-weight="normal" text-anchor="start" fill="#111" >C-O</text>
<text x="443.0" y="297.6" font-family="&quot;Liberation Serif&quot;, serif" font-size="5.9" font-weight="normal" text-anchor="start" fill="#111" >(CaCO3)</text>
<line x1="455.0" y1="281.0" x2="461.3" y2="271.4" stroke="#3a3a3a" stroke-width="0.6"/>
<polygon points="464.4,266.6 462.6,272.2 459.9,270.5" fill="#111"/>
<text x="410.7" y="328.2" font-family="&quot;Liberation Sans&quot;, Arial, sans-serif" font-size="6.5" font-weight="normal" text-anchor="start" fill="#111" >Asymmetric stretching</text>
<text x="410.7" y="336.2" font-family="&quot;Liberation Sans&quot;, Arial, sans-serif" font-size="6.5" font-weight="normal" text-anchor="start" fill="#111" >Si–O–Si</text>
<line x1="467.0" y1="320.0" x2="480.2" y2="311.6" stroke="#3a3a3a" stroke-width="0.6"/>
<polygon points="485.0,308.6 481.0,313.0 479.3,310.3" fill="#111"/>
<text x="483.3" y="328.2" font-family="&quot;Liberation Sans&quot;, Arial, sans-serif" font-size="6.5" font-weight="normal" text-anchor="start" fill="#111" >stretching</text>
<text x="483.3" y="336.9" font-family="&quot;Liberation Sans&quot;, Arial, sans-serif" font-size="6.5" font-weight="normal" text-anchor="start" fill="#111" >Si–OH</text>
<line x1="492.0" y1="322.0" x2="495.2" y2="312.4" stroke="#3a3a3a" stroke-width="0.6"/>
<polygon points="497.0,307.0 496.7,312.9 493.7,311.9" fill="#111"/>
<text x="504.4" y="302.8" font-family="&quot;Liberation Sans&quot;, Arial, sans-serif" font-size="6.5" font-weight="normal" text-anchor="start" fill="#111" >bending</text>
<text x="504.4" y="310.8" font-family="&quot;Liberation Sans&quot;, Arial, sans-serif" font-size="6.5" font-weight="normal" text-anchor="start" fill="#111" >Si–O–Si</text>
<line x1="514.0" y1="295.0" x2="511.2" y2="282.0" stroke="#3a3a3a" stroke-width="0.6"/>
<polygon points="510.0,276.4 512.8,281.6 509.6,282.3" fill="#111"/>
<line x1="515.6" y1="295.0" x2="522.7" y2="295.0" stroke="#3a3a3a" stroke-width="0.6"/>
<polygon points="528.4,295.0 522.7,296.6 522.7,293.4" fill="#111"/>
<text x="514.9" y="328.3" font-family="&quot;Liberation Sans&quot;, Arial, sans-serif" font-size="5.3" font-weight="normal" text-anchor="start" fill="#111" >P-O</text>
<text x="514.9" y="335.6" font-family="&quot;Liberation Sans&quot;, Arial, sans-serif" font-size="5.3" font-weight="normal" text-anchor="start" fill="#111" >bending</text>
<line x1="526.3" y1="338.4" x2="523.9" y2="349.1" stroke="#3a3a3a" stroke-width="0.6"/>
<polygon points="522.6,354.7 522.3,348.8 525.4,349.5" fill="#111"/>
<text x="446.2" y="373.6" font-family="&quot;Liberation Serif&quot;, serif" font-size="5.9" font-weight="normal" text-anchor="start" fill="#111" >C-O</text>
<text x="446.2" y="381.7" font-family="&quot;Liberation Serif&quot;, serif" font-size="5.9" font-weight="normal" text-anchor="start" fill="#111" >(CaCO3)</text>
<line x1="454.9" y1="367.8" x2="463.5" y2="356.1" stroke="#3a3a3a" stroke-width="0.6"/>
<polygon points="466.9,351.5 464.8,357.0 462.2,355.1" fill="#111"/>
<text x="460.4" y="396.2" font-family="&quot;Liberation Sans&quot;, Arial, sans-serif" font-size="6.5" font-weight="normal" text-anchor="start" fill="#111" >bending</text>
<text x="460.4" y="405.4" font-family="&quot;Liberation Sans&quot;, Arial, sans-serif" font-size="6.5" fill="#111">(PO<tspan font-size="4" dy="0.8">4</tspan><tspan dy="-0.8">)</tspan><tspan font-size="4" dy="-2.5">3-</tspan></text>
<line x1="485.5" y1="398.4" x2="491.2" y2="392.9" stroke="#3a3a3a" stroke-width="0.6"/>
<polygon points="495.3,389.0 492.3,394.1 490.1,391.8" fill="#111"/>
<text x="500.3" y="398.4" font-family="&quot;Liberation Sans&quot;, Arial, sans-serif" font-size="6.5" font-weight="normal" text-anchor="start" fill="#111" >bending</text>
<text x="500.3" y="406.5" font-family="&quot;Liberation Sans&quot;, Arial, sans-serif" font-size="6.5" font-weight="normal" text-anchor="start" fill="#111" >Si–O–Si</text>
<line x1="513.8" y1="392.5" x2="517.8" y2="390.8" stroke="#3a3a3a" stroke-width="0.6"/>
<polygon points="523.0,388.5 518.4,392.2 517.1,389.3" fill="#111"/>
<line x1="528.4" y1="406.0" x2="530.4" y2="394.1" stroke="#3a3a3a" stroke-width="0.6"/>
<polygon points="531.3,388.5 531.9,394.4 528.8,393.9" fill="#111"/>
<rect x="300.8" y="10.5" width="233.5" height="404.7" fill="none" stroke="#333" stroke-width="1.25"/>
<line x1="300.9" y1="79.8" x2="300.9" y2="90.6" stroke="#333" stroke-width="1.9"/>
<line x1="300.9" y1="150.7" x2="300.9" y2="170.5" stroke="#333" stroke-width="1.9"/>
<rect x="300.8" y="10.5" width="57.7" height="14.1" fill="#fff" stroke="#8a8a8a" stroke-width="0.8"/>
<text x="304.3" y="21.6" font-family="&quot;Liberation Sans&quot;, Arial, sans-serif" font-size="12.0" font-weight="normal" text-anchor="start" fill="#111" letter-spacing="0" stroke="#111" stroke-width="0.22">MCe3070</text>
<rect x="300.8" y="90.6" width="64.4" height="14.2" fill="#fff" stroke="#8a8a8a" stroke-width="0.8"/>
<text x="309.3" y="102.4" font-family="&quot;Liberation Sans&quot;, Arial, sans-serif" font-size="12.0" font-weight="normal" text-anchor="start" fill="#111" letter-spacing="0" stroke="#111" stroke-width="0.22">MCe5050</text>
<rect x="300.8" y="170.5" width="58.2" height="14.3" fill="#fff" stroke="#8a8a8a" stroke-width="0.8"/>
<text x="304.3" y="181.9" font-family="&quot;Liberation Sans&quot;, Arial, sans-serif" font-size="12.0" font-weight="normal" text-anchor="start" fill="#111" letter-spacing="0" stroke="#111" stroke-width="0.22">MCe7030</text>
<rect x="300.8" y="225.7" width="135.5" height="13.9" fill="#fff" stroke="#8a8a8a" stroke-width="0.8"/>
<text x="309.5" y="236.7" font-family="&quot;Liberation Sans&quot;, Arial, sans-serif" font-size="12.0" font-weight="normal" text-anchor="start" fill="#111" letter-spacing="0" stroke="#111" stroke-width="0.22">Ca/Ce co-doped MSNs</text>
<rect x="300.8" y="353.7" width="32.3" height="14.0" fill="#fff" stroke="#8a8a8a" stroke-width="0.8"/>
<text x="305.7" y="365.0" font-family="&quot;Liberation Sans&quot;, Arial, sans-serif" font-size="12.0" font-weight="normal" text-anchor="start" fill="#111" letter-spacing="0" stroke="#111" stroke-width="0.22">MTA</text>
<line x1="300.8" y1="415.2" x2="300.8" y2="419.5" stroke="#333" stroke-width="1"/>
<text x="300.8" y="431.4" font-family="&quot;Liberation Sans&quot;, Arial, sans-serif" font-size="9.9" font-weight="normal" text-anchor="middle" fill="#222" textLength="21.8" lengthAdjust="spacingAndGlyphs" stroke="#222" stroke-width="0.15">4000</text>
<line x1="333.2" y1="415.2" x2="333.2" y2="419.5" stroke="#333" stroke-width="1"/>
<text x="333.2" y="431.4" font-family="&quot;Liberation Sans&quot;, Arial, sans-serif" font-size="9.9" font-weight="normal" text-anchor="middle" fill="#222" textLength="21.8" lengthAdjust="spacingAndGlyphs" stroke="#222" stroke-width="0.15">3500</text>
<line x1="365.7" y1="415.2" x2="365.7" y2="419.5" stroke="#333" stroke-width="1"/>
<text x="365.7" y="431.4" font-family="&quot;Liberation Sans&quot;, Arial, sans-serif" font-size="9.9" font-weight="normal" text-anchor="middle" fill="#222" textLength="21.8" lengthAdjust="spacingAndGlyphs" stroke="#222" stroke-width="0.15">3000</text>
<line x1="398.1" y1="415.2" x2="398.1" y2="419.5" stroke="#333" stroke-width="1"/>
<text x="398.1" y="431.4" font-family="&quot;Liberation Sans&quot;, Arial, sans-serif" font-size="9.9" font-weight="normal" text-anchor="middle" fill="#222" textLength="21.8" lengthAdjust="spacingAndGlyphs" stroke="#222" stroke-width="0.15">2500</text>
<line x1="430.5" y1="415.2" x2="430.5" y2="419.5" stroke="#333" stroke-width="1"/>
<text x="430.5" y="431.4" font-family="&quot;Liberation Sans&quot;, Arial, sans-serif" font-size="9.9" font-weight="normal" text-anchor="middle" fill="#222" textLength="21.8" lengthAdjust="spacingAndGlyphs" stroke="#222" stroke-width="0.15">2000</text>
<line x1="462.9" y1="415.2" x2="462.9" y2="419.5" stroke="#333" stroke-width="1"/>
<text x="462.9" y="431.4" font-family="&quot;Liberation Sans&quot;, Arial, sans-serif" font-size="9.9" font-weight="normal" text-anchor="middle" fill="#222" textLength="21.8" lengthAdjust="spacingAndGlyphs" stroke="#222" stroke-width="0.15">1500</text>
<line x1="495.4" y1="415.2" x2="495.4" y2="419.5" stroke="#333" stroke-width="1"/>
<text x="495.4" y="431.4" font-family="&quot;Liberation Sans&quot;, Arial, sans-serif" font-size="9.9" font-weight="normal" text-anchor="middle" fill="#222" textLength="21.8" lengthAdjust="spacingAndGlyphs" stroke="#222" stroke-width="0.15">1000</text>
<line x1="527.8" y1="415.2" x2="527.8" y2="419.5" stroke="#333" stroke-width="1"/>
<text x="527.8" y="431.4" font-family="&quot;Liberation Sans&quot;, Arial, sans-serif" font-size="9.9" font-weight="normal" text-anchor="middle" fill="#222" textLength="16.3" lengthAdjust="spacingAndGlyphs" stroke="#222" stroke-width="0.15">500</text>
<line x1="317.0" y1="415.2" x2="317.0" y2="417.5" stroke="#333" stroke-width="1"/>
<line x1="349.4" y1="415.2" x2="349.4" y2="417.5" stroke="#333" stroke-width="1"/>
<line x1="381.9" y1="415.2" x2="381.9" y2="417.5" stroke="#333" stroke-width="1"/>
<line x1="414.3" y1="415.2" x2="414.3" y2="417.5" stroke="#333" stroke-width="1"/>
<line x1="446.7" y1="415.2" x2="446.7" y2="417.5" stroke="#333" stroke-width="1"/>
<line x1="479.2" y1="415.2" x2="479.2" y2="417.5" stroke="#333" stroke-width="1"/>
<line x1="511.6" y1="415.2" x2="511.6" y2="417.5" stroke="#333" stroke-width="1"/>
<text x="420.5" y="453.2" font-family="&quot;Liberation Sans&quot;, Arial, sans-serif" font-size="12.0" text-anchor="middle" fill="#1a1a1a" stroke="#1a1a1a" stroke-width="0.2">Wavenumbers (cm<tspan font-size="6.7" dy="-5.6">-1</tspan><tspan dy="5.6">)</tspan></text>
<text transform="translate(289.5 212.0) rotate(-90)" font-family="&quot;Liberation Sans&quot;, Arial, sans-serif" font-size="11.75" text-anchor="middle" fill="#1a1a1a" stroke="#1a1a1a" stroke-width="0.2">Transmittance (a.u.)</text>
<text x="311.0" y="406.7" font-family="&quot;DejaVu Sans&quot;, Verdana, sans-serif" font-size="19" font-weight="bold" text-anchor="start" fill="#000" >B</text>
<path d="M29.6 526.9C31.8 526.9 40.0 527.4 42.8 526.9C45.6 526.4 44.9 525.1 46.6 523.6C48.3 522.1 50.2 520.1 53.0 517.9C55.8 515.7 60.2 512.5 63.2 510.5C66.2 508.5 68.9 506.9 70.8 506.0C72.7 505.1 73.4 504.8 74.6 505.0C75.8 505.2 76.9 507.3 78.0 507.0C79.1 506.7 79.2 504.8 81.0 503.3C82.8 501.8 86.1 499.4 88.6 498.2C91.1 497.0 93.7 496.6 96.2 496.4C98.8 496.2 101.4 496.7 103.9 496.9C106.5 497.1 108.5 497.7 111.5 497.4C114.5 497.1 118.3 495.8 121.7 495.1C125.1 494.4 128.5 493.5 131.9 493.1C135.3 492.7 139.0 492.5 142.0 492.6C145.0 492.7 147.1 493.1 149.7 493.8C152.2 494.5 155.2 496.3 157.3 496.9C159.4 497.5 160.2 497.5 162.0 497.5C163.8 497.5 165.9 496.9 168.2 496.9C170.5 496.9 173.3 497.4 175.8 497.7C178.3 498.0 180.7 498.5 183.4 498.9C186.2 499.3 189.5 499.6 192.3 500.2C195.1 500.8 197.2 501.2 200.0 502.5C202.8 503.8 205.7 506.0 208.9 507.8C212.1 509.6 215.7 511.5 219.1 513.4C222.5 515.3 226.2 517.5 229.2 519.0C232.2 520.5 234.8 521.5 236.9 522.3C239.0 523.1 240.5 523.6 242.0 523.6C243.5 523.6 244.1 523.2 245.8 522.3C247.5 521.4 250.0 519.6 252.1 518.0C254.2 516.4 256.6 514.3 258.5 512.9C260.4 511.5 262.9 510.0 263.8 509.4" fill="none" stroke="#9c9c9c" stroke-width="1.25" stroke-linejoin="round"/>
<path d="M29.6 592.2C31.0 592.2 35.8 592.1 37.7 592.2C39.6 592.3 39.7 593.1 40.8 592.9C41.9 592.7 42.5 592.1 44.1 590.9C45.7 589.7 47.6 587.9 50.4 585.8C53.1 583.7 57.6 580.2 60.6 578.2C63.6 576.2 66.2 574.7 68.3 573.8C70.4 572.9 71.7 572.5 73.3 572.6C74.9 572.7 76.5 574.8 77.8 574.4C79.1 574.0 79.6 571.9 81.0 570.5C82.4 569.1 84.2 567.2 86.1 566.2C88.0 565.2 89.9 564.8 92.4 564.2C94.9 563.7 98.1 563.3 101.3 562.9C104.5 562.5 108.1 562.0 111.5 561.6C114.9 561.2 118.3 561.0 121.7 560.4C125.1 559.8 128.5 558.8 131.9 558.3C135.3 557.8 139.0 557.2 142.0 557.2C145.0 557.2 147.1 557.8 149.7 558.3C152.2 558.8 155.3 559.8 157.3 560.4C159.3 561.0 159.7 561.6 161.5 561.6C163.3 561.6 165.8 560.4 168.2 560.4C170.6 560.4 173.1 561.0 175.8 561.6C178.6 562.2 181.7 563.6 184.7 564.2C187.7 564.8 190.8 564.6 193.6 565.4C196.3 566.2 198.6 567.3 201.2 568.8C203.8 570.3 206.3 572.6 208.9 574.4C211.5 576.2 214.0 578.3 216.5 579.4C219.0 580.5 221.5 579.9 224.1 580.7C226.7 581.6 229.5 583.3 231.8 584.5C234.1 585.7 236.4 587.0 238.1 587.8C239.8 588.6 240.7 589.1 242.0 589.1C243.3 589.1 244.1 588.6 245.8 587.6C247.5 586.6 250.0 584.8 252.1 583.3C254.2 581.8 256.6 580.1 258.5 578.9C260.4 577.7 262.9 576.5 263.8 576.0" fill="none" stroke="#9c9c9c" stroke-width="1.25" stroke-linejoin="round"/>
<path d="M29.6 668.4C30.5 668.2 33.4 667.1 35.2 667.2C37.0 667.3 38.8 668.9 40.3 668.9C41.8 668.9 42.4 668.3 44.1 667.2C45.8 666.1 47.6 664.2 50.4 662.1C53.1 660.0 57.6 656.9 60.6 654.9C63.6 652.9 66.2 651.1 68.3 650.1C70.4 649.1 71.8 648.6 73.3 648.6C74.8 648.6 76.0 650.2 77.2 649.9C78.4 649.6 79.0 648.2 80.5 646.8C82.0 645.4 84.1 643.2 86.1 641.7C88.1 640.2 89.9 638.9 92.4 637.9C94.9 636.9 98.1 636.5 101.3 635.9C104.5 635.3 108.1 634.7 111.5 634.1C114.9 633.5 118.3 633.1 121.7 632.3C125.1 631.4 128.7 629.9 131.9 629.0C135.1 628.1 138.3 627.5 140.8 627.2C143.3 626.9 144.8 626.6 147.1 627.0C149.4 627.4 152.5 628.5 154.8 629.4C157.1 630.3 158.8 631.9 161.0 632.2C163.2 632.6 165.7 631.3 168.2 631.5C170.7 631.7 173.1 632.3 175.8 633.3C178.6 634.3 182.4 636.5 184.7 637.4C187.0 638.2 187.7 637.5 189.8 638.4C191.9 639.2 195.1 641.0 197.4 642.5C199.7 644.0 201.7 645.6 203.8 647.6C205.9 649.6 208.3 652.5 210.2 654.4C212.1 656.3 213.7 657.9 215.2 658.8C216.7 659.6 217.8 659.7 219.1 659.5C220.4 659.3 221.4 657.9 222.9 657.5C224.4 657.1 226.3 656.5 228.0 657.0C229.7 657.5 231.2 659.1 233.1 660.3C235.0 661.5 237.7 663.4 239.4 664.1C241.1 664.8 241.9 664.9 243.2 664.6C244.5 664.3 245.3 663.3 247.0 662.1C248.7 660.9 251.3 658.9 253.4 657.5C255.5 656.1 258.1 654.9 259.8 653.9C261.5 652.9 263.1 652.1 263.8 651.8" fill="none" stroke="#9c9c9c" stroke-width="1.25" stroke-linejoin="round"/>
<path d="M29.6 733.9C31.8 733.9 40.0 734.4 42.8 733.9C45.6 733.4 44.9 732.4 46.6 730.8C48.3 729.2 50.2 726.9 53.0 724.4C55.8 721.9 60.2 718.2 63.2 716.0C66.2 713.8 68.9 712.2 70.8 711.2C72.7 710.2 73.4 709.9 74.6 709.9C75.8 709.9 76.6 711.2 77.7 711.0C78.8 710.8 79.4 709.3 81.0 708.4C82.6 707.5 85.4 706.1 87.3 705.4C89.2 704.7 90.5 704.2 92.4 704.1C94.3 704.0 96.9 704.4 98.8 704.6C100.7 704.8 102.2 705.1 103.9 705.4C105.6 705.7 107.3 706.5 109.0 706.6C110.7 706.7 112.4 706.4 114.1 706.1C115.8 705.8 117.5 705.3 119.2 704.8C120.9 704.3 121.7 703.6 124.2 703.3C126.7 703.0 131.0 702.8 134.4 702.8C137.8 702.8 141.6 702.8 144.6 703.3C147.6 703.8 150.0 705.1 152.2 705.9C154.4 706.7 156.6 708.0 158.0 708.3C159.4 708.5 158.4 707.7 160.5 707.4C162.6 707.1 167.3 706.7 170.7 706.6C174.1 706.5 177.5 706.7 180.9 706.9C184.3 707.1 187.9 707.5 191.1 707.9C194.3 708.3 197.0 708.4 200.0 709.2C203.0 710.1 206.2 711.7 208.9 713.0C211.7 714.3 214.0 715.3 216.5 716.8C219.0 718.3 221.5 720.2 224.1 721.9C226.7 723.6 229.5 725.7 231.8 727.0C234.1 728.3 236.2 729.0 238.1 729.5C240.0 730.0 241.5 730.2 243.2 730.0C244.9 729.8 246.4 729.4 248.3 728.3C250.2 727.2 252.8 724.9 254.7 723.2C256.6 721.5 258.3 719.5 259.8 718.1C261.3 716.7 263.1 715.3 263.8 714.8" fill="none" stroke="#9c9c9c" stroke-width="1.25" stroke-linejoin="round"/>
<path d="M29.6 788.3C31.0 789.3 34.7 792.3 37.7 794.2C40.8 796.1 44.9 798.5 47.9 799.8C50.9 801.1 53.4 801.4 55.5 801.8C57.6 802.2 58.7 802.5 60.6 802.3C62.5 802.0 65.1 800.8 67.0 800.3C68.9 799.8 70.4 799.5 72.1 799.3C73.8 799.1 75.7 800.1 77.2 799.3C78.7 798.5 79.7 796.3 81.0 794.7C82.3 793.1 83.3 791.1 84.8 789.6C86.3 788.1 88.0 786.8 89.9 785.8C91.8 784.8 93.9 784.6 96.2 783.3C98.5 782.0 101.4 780.0 103.9 778.2C106.5 776.4 109.7 773.4 111.5 772.3C113.3 771.2 113.4 771.8 114.5 771.7C115.6 771.6 116.5 771.4 117.9 771.7C119.3 772.0 121.3 772.9 123.0 773.6C124.7 774.3 126.4 776.5 128.1 776.1C129.8 775.7 131.2 772.8 133.1 771.0C135.0 769.2 137.2 767.0 139.5 765.4C141.8 763.8 145.0 762.3 147.1 761.6C149.2 760.9 150.5 760.9 152.2 761.1C153.9 761.3 155.7 762.1 157.3 762.9C158.9 763.7 160.0 765.6 161.8 766.0C163.6 766.4 166.1 765.1 168.2 765.4C170.3 765.7 172.4 766.8 174.5 768.0C176.6 769.2 178.9 771.0 180.9 772.6C182.9 774.2 184.8 776.7 186.5 777.7C188.2 778.7 189.5 777.6 191.1 778.7C192.7 779.8 194.5 782.2 196.2 784.5C197.9 786.8 199.5 789.4 201.2 792.2C202.9 795.0 204.6 798.6 206.3 801.1C208.0 803.6 209.9 805.9 211.4 807.4C212.9 808.9 214.0 810.0 215.2 810.0C216.4 810.0 217.4 809.1 218.5 807.4C219.6 805.7 220.6 802.3 221.6 799.8C222.6 797.3 223.6 794.1 224.7 792.2C225.8 790.3 226.8 788.9 228.0 788.3C229.2 787.6 230.3 787.6 231.8 788.3C233.3 788.9 235.2 791.0 236.9 792.2C238.6 793.4 240.7 794.8 242.0 795.5C243.3 796.2 243.9 796.5 245.0 796.5C246.1 796.5 247.1 795.4 248.3 795.5C249.5 795.6 250.8 796.6 252.1 797.3C253.4 798.0 254.6 799.2 255.9 799.8C257.2 800.3 258.5 800.5 259.8 800.6C261.1 800.7 263.1 800.6 263.8 800.6" fill="none" stroke="#9c9c9c" stroke-width="1.25" stroke-linejoin="round"/>
<rect x="29.7" y="480.9" width="58.9" height="14.1" fill="#fff" stroke="#8a8a8a" stroke-width="0.8"/>
<text x="33.9" y="492.5" font-family="&quot;Liberation Sans&quot;, Arial, sans-serif" font-size="12.0" font-weight="normal" text-anchor="start" fill="#111" letter-spacing="0" stroke="#111" stroke-width="0.22">MCa3070</text>
<rect x="29.7" y="549.8" width="58.9" height="13.9" fill="#fff" stroke="#8a8a8a" stroke-width="0.8"/>
<text x="33.9" y="560.8" font-family="&quot;Liberation Sans&quot;, Arial, sans-serif" font-size="12.0" font-weight="normal" text-anchor="start" fill="#111" letter-spacing="0" stroke="#111" stroke-width="0.22">MCa5050</text>
<rect x="29.7" y="622.9" width="65.6" height="13.7" fill="#fff" stroke="#8a8a8a" stroke-width="0.8"/>
<text x="38.5" y="634.1" font-family="&quot;Liberation Sans&quot;, Arial, sans-serif" font-size="12.0" font-weight="normal" text-anchor="start" fill="#111" letter-spacing="0" stroke="#111" stroke-width="0.22">MCa7030</text>
<rect x="29.7" y="688.8" width="94.9" height="14.7" fill="#fff" stroke="#8a8a8a" stroke-width="0.8"/>
<text x="34.0" y="700.5" font-family="&quot;Liberation Sans&quot;, Arial, sans-serif" font-size="12.0" font-weight="normal" text-anchor="start" fill="#111" letter-spacing="0" stroke="#111" stroke-width="0.22">Ca-doped MSNs</text>
<rect x="29.7" y="774.2" width="32.9" height="14.0" fill="#fff" stroke="#8a8a8a" stroke-width="0.8"/>
<text x="34.6" y="785.5" font-family="&quot;Liberation Sans&quot;, Arial, sans-serif" font-size="12.0" font-weight="normal" text-anchor="start" fill="#111" letter-spacing="0" stroke="#111" stroke-width="0.22">MTA</text>
<text x="182.2" y="745.7" font-family="&quot;Liberation Sans&quot;, Arial, sans-serif" font-size="8.3" font-weight="normal" text-anchor="start" fill="#111" >P-O</text>
<text x="182.2" y="755.7" font-family="&quot;Liberation Sans&quot;, Arial, sans-serif" font-size="8.3" font-weight="normal" text-anchor="start" fill="#111" >bending</text>
<line x1="191.1" y1="762.9" x2="189.0" y2="769.9" stroke="#3a3a3a" stroke-width="0.6"/>
<polygon points="187.3,775.6 187.5,769.4 190.6,770.3" fill="#111"/>
<text x="201.2" y="765.1" font-family="&quot;Liberation Sans&quot;, Arial, sans-serif" font-size="8.3" font-weight="normal" text-anchor="start" fill="#111" >bending</text>
<text x="201.2" y="775.3" font-family="&quot;Liberation Sans&quot;, Arial, sans-serif" font-size="8.3" font-weight="normal" text-anchor="start" fill="#111" >Si–O–Si</text>
<line x1="207.6" y1="782.0" x2="212.5" y2="801.6" stroke="#3a3a3a" stroke-width="0.6"/>
<polygon points="214.0,807.4 211.0,802.0 214.1,801.2" fill="#111"/>
<line x1="231.8" y1="775.6" x2="241.3" y2="790.4" stroke="#3a3a3a" stroke-width="0.6"/>
<polygon points="244.5,795.5 239.9,791.3 242.6,789.6" fill="#111"/>
<text x="88.6" y="805.7" font-family="&quot;Liberation Sans&quot;, Arial, sans-serif" font-size="8.3" font-weight="normal" text-anchor="start" fill="#111" >bending</text>
<text x="88.6" y="816.8" font-family="&quot;Liberation Sans&quot;, Arial, sans-serif" font-size="8.3" fill="#111">(PO<tspan font-size="4.4" dy="0.6">4</tspan><tspan dy="-0.6">)</tspan><tspan font-size="4.2" dy="-3.6">3-</tspan></text>
<line x1="85.2" y1="812.0" x2="78.5" y2="807.9" stroke="#3a3a3a" stroke-width="0.6"/>
<polygon points="73.4,804.7 79.3,806.5 77.7,809.2" fill="#111"/>
<rect x="29.7" y="463.7" width="234.3" height="357.3" fill="none" stroke="#333" stroke-width="1.25"/>
<line x1="29.7" y1="821.0" x2="29.7" y2="825.3" stroke="#333" stroke-width="1"/>
<text x="29.7" y="836.9" font-family="&quot;Liberation Sans&quot;, Arial, sans-serif" font-size="9.7" font-weight="normal" text-anchor="middle" fill="#222" textLength="20.3" lengthAdjust="spacingAndGlyphs" stroke="#222" stroke-width="0.15">1000</text>
<line x1="68.8" y1="821.0" x2="68.8" y2="825.3" stroke="#333" stroke-width="1"/>
<text x="68.8" y="836.9" font-family="&quot;Liberation Sans&quot;, Arial, sans-serif" font-size="9.7" font-weight="normal" text-anchor="middle" fill="#222" textLength="15.3" lengthAdjust="spacingAndGlyphs" stroke="#222" stroke-width="0.15">900</text>
<line x1="107.8" y1="821.0" x2="107.8" y2="825.3" stroke="#333" stroke-width="1"/>
<text x="107.8" y="836.9" font-family="&quot;Liberation Sans&quot;, Arial, sans-serif" font-size="9.7" font-weight="normal" text-anchor="middle" fill="#222" textLength="15.3" lengthAdjust="spacingAndGlyphs" stroke="#222" stroke-width="0.15">800</text>
<line x1="146.8" y1="821.0" x2="146.8" y2="825.3" stroke="#333" stroke-width="1"/>
<text x="146.8" y="836.9" font-family="&quot;Liberation Sans&quot;, Arial, sans-serif" font-size="9.7" font-weight="normal" text-anchor="middle" fill="#222" textLength="15.3" lengthAdjust="spacingAndGlyphs" stroke="#222" stroke-width="0.15">700</text>
<line x1="185.9" y1="821.0" x2="185.9" y2="825.3" stroke="#333" stroke-width="1"/>
<text x="185.9" y="836.9" font-family="&quot;Liberation Sans&quot;, Arial, sans-serif" font-size="9.7" font-weight="normal" text-anchor="middle" fill="#222" textLength="15.3" lengthAdjust="spacingAndGlyphs" stroke="#222" stroke-width="0.15">600</text>
<line x1="225.0" y1="821.0" x2="225.0" y2="825.3" stroke="#333" stroke-width="1"/>
<text x="225.0" y="836.9" font-family="&quot;Liberation Sans&quot;, Arial, sans-serif" font-size="9.7" font-weight="normal" text-anchor="middle" fill="#222" textLength="15.3" lengthAdjust="spacingAndGlyphs" stroke="#222" stroke-width="0.15">500</text>
<line x1="264.0" y1="821.0" x2="264.0" y2="825.3" stroke="#333" stroke-width="1"/>
<text x="264.0" y="836.9" font-family="&quot;Liberation Sans&quot;, Arial, sans-serif" font-size="9.7" font-weight="normal" text-anchor="middle" fill="#222" textLength="15.3" lengthAdjust="spacingAndGlyphs" stroke="#222" stroke-width="0.15">400</text>
<line x1="49.2" y1="821.0" x2="49.2" y2="823.3" stroke="#333" stroke-width="1"/>
<line x1="88.3" y1="821.0" x2="88.3" y2="823.3" stroke="#333" stroke-width="1"/>
<line x1="127.3" y1="821.0" x2="127.3" y2="823.3" stroke="#333" stroke-width="1"/>
<line x1="166.4" y1="821.0" x2="166.4" y2="823.3" stroke="#333" stroke-width="1"/>
<line x1="205.4" y1="821.0" x2="205.4" y2="823.3" stroke="#333" stroke-width="1"/>
<line x1="244.5" y1="821.0" x2="244.5" y2="823.3" stroke="#333" stroke-width="1"/>
<text x="147.5" y="854.2" font-family="&quot;Liberation Sans&quot;, Arial, sans-serif" font-size="12.0" text-anchor="middle" fill="#1a1a1a" stroke="#1a1a1a" stroke-width="0.2">Wavenumbers (cm<tspan font-size="6.7" dy="-5.6">-1</tspan><tspan dy="5.6">)</tspan></text>
<text transform="translate(16.7 645.6) rotate(-90)" font-family="&quot;Liberation Sans&quot;, Arial, sans-serif" font-size="11.75" text-anchor="middle" fill="#1a1a1a" stroke="#1a1a1a" stroke-width="0.2">Transmittance (a.u.)</text>
<text x="34.1" y="817.4" font-family="&quot;DejaVu Sans&quot;, Verdana, sans-serif" font-size="19" font-weight="bold" text-anchor="start" fill="#000" >C</text>
<path d="M301.4 520.6C303.1 520.5 309.2 520.3 311.5 519.8C313.8 519.2 313.5 519.2 315.4 517.3C317.3 515.4 320.0 510.9 323.0 508.3C326.0 505.8 330.0 503.6 333.2 502.0C336.4 500.4 339.6 499.3 342.1 498.7C344.6 498.1 346.5 498.8 348.4 498.2C350.3 497.6 351.2 496.3 353.5 495.1C355.8 493.9 359.4 491.9 362.4 491.0C365.4 490.1 368.1 490.4 371.3 490.0C374.5 489.6 378.1 489.2 381.5 488.8C384.9 488.4 388.3 487.9 391.7 487.5C395.1 487.1 398.5 486.6 401.9 486.2C405.3 485.8 409.0 485.4 412.0 485.4C415.0 485.4 417.1 485.6 419.7 486.0C422.2 486.4 425.3 487.5 427.3 488.0C429.3 488.5 429.8 488.9 431.8 488.8C433.8 488.7 436.6 487.5 439.4 487.5C442.1 487.5 445.1 488.3 448.3 488.8C451.5 489.3 455.1 489.9 458.5 490.5C461.9 491.1 465.7 491.6 468.7 492.6C471.7 493.6 473.3 494.8 476.3 496.4C479.3 498.0 483.1 500.7 486.5 502.5C489.9 504.3 493.3 505.5 496.7 507.1C500.1 508.7 504.1 511.0 506.9 512.2C509.6 513.4 511.3 514.2 513.2 514.2C515.1 514.2 516.4 513.4 518.3 512.2C520.2 511.0 522.6 508.8 524.7 507.1C526.8 505.4 529.3 503.1 531.0 502.0C532.7 500.9 534.2 500.5 534.9 500.2" fill="none" stroke="#9c9c9c" stroke-width="1.25" stroke-linejoin="round"/>
<path d="M301.4 585.9C303.1 585.8 309.2 585.6 311.5 585.1C313.8 584.6 313.5 584.4 315.4 582.8C317.3 581.1 320.0 577.4 323.0 575.2C326.0 573.0 330.0 570.9 333.2 569.4C336.4 567.9 339.4 567.0 342.1 566.0C344.9 565.0 347.2 564.5 349.7 563.5C352.2 562.5 354.8 560.6 357.3 559.7C359.9 558.8 362.2 558.4 365.0 557.9C367.8 557.4 370.7 557.0 373.9 556.6C377.1 556.2 380.7 555.8 384.1 555.4C387.5 555.0 390.8 554.5 394.2 554.1C397.6 553.7 401.2 553.1 404.4 552.8C407.6 552.4 410.5 552.0 413.3 552.0C416.1 552.0 418.4 552.4 421.0 552.8C423.6 553.1 426.6 553.9 428.6 554.1C430.6 554.3 430.9 554.1 433.1 554.1C435.3 554.1 439.0 553.9 442.0 554.1C445.0 554.3 447.7 555.0 450.9 555.4C454.1 555.8 458.1 556.0 461.1 556.6C464.1 557.2 466.2 557.7 468.7 558.7C471.2 559.7 473.8 560.9 476.3 562.5C478.9 564.1 481.7 566.8 484.0 568.1C486.3 569.5 488.4 570.1 490.3 570.6C492.2 571.1 493.5 570.5 495.4 571.1C497.3 571.7 499.7 573.3 501.8 574.4C503.9 575.5 506.2 577.0 508.1 577.5C510.0 578.0 511.5 578.1 513.2 577.7C514.9 577.3 516.4 576.5 518.3 575.2C520.2 573.9 522.6 571.7 524.7 570.1C526.8 568.5 529.3 566.7 531.0 565.5C532.7 564.3 534.2 563.4 534.9 563.0" fill="none" stroke="#9c9c9c" stroke-width="1.25" stroke-linejoin="round"/>
<path d="M301.4 665.9C303.1 665.8 309.0 665.9 311.5 665.4C314.0 664.9 314.3 664.0 316.6 662.9C318.9 661.8 322.3 660.0 325.5 658.6C328.7 657.2 332.5 655.9 335.7 654.7C338.9 653.5 342.6 652.1 344.6 651.4C346.6 650.7 346.9 650.5 347.9 650.7C348.9 650.9 349.6 653.2 350.5 652.7C351.4 652.2 351.9 649.3 353.5 647.6C355.1 645.9 357.3 644.0 359.9 642.5C362.4 641.0 365.6 639.9 368.8 638.7C372.0 637.5 375.6 636.2 379.0 635.4C382.4 634.5 386.1 634.0 389.1 633.6C392.1 633.2 394.9 632.8 396.8 632.9C398.7 633.0 398.9 634.4 400.6 634.1C402.3 633.8 404.7 632.0 407.0 631.1C409.3 630.2 412.1 629.2 414.6 629.0C417.1 628.8 419.6 629.3 422.2 629.8C424.8 630.3 427.9 631.2 429.9 631.8C431.9 632.4 432.6 633.5 434.4 633.6C436.2 633.7 438.4 632.3 440.7 632.4C443.0 632.5 445.8 633.6 448.3 634.4C450.9 635.2 453.9 636.8 456.0 637.4C458.1 638.0 459.0 637.4 461.1 638.2C463.2 639.1 466.2 640.7 468.7 642.5C471.2 644.3 474.0 646.7 476.3 648.9C478.6 651.1 480.7 653.9 482.7 655.8C484.7 657.7 486.8 659.8 488.5 660.3C490.2 660.8 491.3 659.1 492.9 658.6C494.5 658.1 496.3 656.9 498.0 657.0C499.7 657.1 501.2 658.1 503.1 659.1C505.0 660.1 507.6 662.0 509.4 662.9C511.2 663.8 512.2 664.8 513.7 664.7C515.2 664.6 516.5 663.1 518.3 662.1C520.1 661.1 522.6 659.7 524.7 658.6C526.8 657.5 529.3 656.4 531.0 655.8C532.7 655.1 534.2 654.9 534.9 654.7" fill="none" stroke="#9c9c9c" stroke-width="1.25" stroke-linejoin="round"/>
<path d="M301.4 736.4C303.2 736.3 309.8 736.4 312.3 735.9C314.8 735.4 314.6 734.8 316.6 733.3C318.6 731.8 321.3 729.1 324.3 727.0C327.3 724.9 331.0 722.5 334.4 720.6C337.8 718.7 341.4 716.9 344.6 715.5C347.8 714.1 350.7 713.4 353.5 712.5C356.3 711.6 358.6 710.4 361.2 709.9C363.8 709.4 366.3 709.1 368.8 709.2C371.3 709.3 374.1 710.3 376.4 710.4C378.7 710.5 380.2 710.4 382.8 709.9C385.4 709.4 388.5 708.0 391.7 707.4C394.9 706.8 398.5 706.3 401.9 706.1C405.3 705.9 408.8 705.8 412.0 706.1C415.2 706.4 418.3 707.2 421.0 707.9C423.7 708.6 425.1 709.8 428.0 710.4C430.9 711.0 434.8 711.0 438.2 711.2C441.6 711.4 444.9 711.4 448.3 711.7C451.7 712.0 455.3 712.4 458.5 713.0C461.7 713.6 464.4 714.5 467.4 715.5C470.4 716.5 473.1 717.5 476.3 718.8C479.5 720.1 483.1 721.6 486.5 723.2C489.9 724.8 493.7 726.9 496.7 728.3C499.7 729.7 501.8 730.8 504.3 731.6C506.9 732.4 509.7 733.2 512.0 733.3C514.3 733.4 516.2 732.9 518.3 732.1C520.4 731.3 522.6 729.8 524.7 728.3C526.8 726.8 529.3 724.5 531.0 723.2C532.7 721.9 534.2 721.0 534.9 720.6" fill="none" stroke="#9c9c9c" stroke-width="1.25" stroke-linejoin="round"/>
<path d="M301.4 787.6C302.7 788.5 306.2 791.2 309.0 792.9C311.8 794.6 315.1 796.6 317.9 798.0C320.6 799.4 323.2 800.5 325.5 801.1C327.8 801.7 330.0 801.9 331.9 801.8C333.8 801.7 335.3 801.0 337.0 800.6C338.7 800.2 340.3 799.4 342.1 799.3C343.9 799.2 346.2 800.4 347.9 799.8C349.6 799.2 350.7 797.4 352.3 795.5C353.9 793.6 355.4 790.1 357.3 788.3C359.2 786.5 361.4 785.8 363.7 784.5C366.0 783.2 368.8 782.4 371.3 780.7C373.8 779.0 376.8 775.9 378.9 774.4C381.0 772.9 382.6 772.3 384.0 771.8C385.4 771.3 386.3 771.4 387.5 771.4C388.7 771.4 389.9 771.4 391.3 771.8C392.7 772.2 394.4 773.4 395.6 774.0C396.8 774.6 397.5 775.1 398.5 775.2C399.5 775.3 400.4 775.4 401.5 774.7C402.6 774.0 403.8 772.4 405.1 771.1C406.4 769.9 407.8 768.4 409.5 767.2C411.2 766.0 413.6 764.8 415.3 763.8C417.0 762.8 418.2 761.8 419.6 761.3C421.1 760.8 422.7 760.8 424.0 760.9C425.3 761.0 426.4 761.0 427.6 761.6C428.8 762.2 430.1 763.6 431.3 764.3C432.5 765.0 433.3 765.5 434.9 765.7C436.5 765.9 438.7 765.1 440.7 765.6C442.7 766.1 445.0 767.2 447.1 768.5C449.2 769.8 451.5 771.5 453.4 773.1C455.3 774.7 457.0 777.2 458.5 778.2C460.0 779.2 460.8 778.5 462.3 779.4C463.8 780.3 465.7 782.1 467.4 783.8C469.1 785.5 470.8 787.1 472.5 789.6C474.2 792.1 475.9 795.7 477.6 798.5C479.3 801.3 481.1 804.4 482.7 806.2C484.3 808.0 485.7 809.0 487.0 809.2C488.3 809.4 489.2 808.8 490.3 807.4C491.4 806.0 492.5 803.4 493.6 801.1C494.7 798.8 495.7 795.5 496.7 793.4C497.7 791.3 498.6 789.3 499.7 788.3C500.8 787.2 501.7 786.7 503.1 787.1C504.5 787.5 506.4 789.7 508.1 790.9C509.8 792.1 511.7 793.5 513.2 794.2C514.7 794.9 515.5 795.0 517.0 795.2C518.5 795.4 520.4 794.6 522.1 795.2C523.8 795.8 525.7 798.1 527.2 799.0C528.7 799.9 529.7 800.0 531.0 800.3C532.3 800.6 534.2 800.5 534.9 800.6" fill="none" stroke="#9c9c9c" stroke-width="1.25" stroke-linejoin="round"/>
<text x="453.9" y="742.0" font-family="&quot;Liberation Sans&quot;, Arial, sans-serif" font-size="8.3" font-weight="normal" text-anchor="start" fill="#111" >P-O</text>
<text x="453.9" y="752.3" font-family="&quot;Liberation Sans&quot;, Arial, sans-serif" font-size="8.3" font-weight="normal" text-anchor="start" fill="#111" >bending</text>
<line x1="462.3" y1="759.1" x2="460.5" y2="766.0" stroke="#3a3a3a" stroke-width="0.6"/>
<polygon points="459.0,771.8 459.0,765.6 462.1,766.4" fill="#111"/>
<text x="473.0" y="762.0" font-family="&quot;Liberation Sans&quot;, Arial, sans-serif" font-size="8.3" font-weight="normal" text-anchor="start" fill="#111" >bending</text>
<text x="473.0" y="772.4" font-family="&quot;Liberation Sans&quot;, Arial, sans-serif" font-size="8.3" font-weight="normal" text-anchor="start" fill="#111" >Si–O–Si</text>
<line x1="480.2" y1="779.4" x2="484.9" y2="796.5" stroke="#3a3a3a" stroke-width="0.6"/>
<polygon points="486.5,802.3 483.4,796.9 486.5,796.1" fill="#111"/>
<line x1="503.8" y1="773.1" x2="512.6" y2="787.1" stroke="#3a3a3a" stroke-width="0.6"/>
<polygon points="515.8,792.2 511.3,788.0 514.0,786.3" fill="#111"/>
<text x="369.3" y="805.7" font-family="&quot;Liberation Sans&quot;, Arial, sans-serif" font-size="8.3" font-weight="normal" text-anchor="start" fill="#111" >bending</text>
<text x="369.3" y="816.8" font-family="&quot;Liberation Sans&quot;, Arial, sans-serif" font-size="8.3" fill="#111">(PO<tspan font-size="4.4" dy="0.6">4</tspan><tspan dy="-0.6">)</tspan><tspan font-size="4.2" dy="-3.6">3-</tspan></text>
<line x1="366.2" y1="810.0" x2="359.3" y2="806.4" stroke="#3a3a3a" stroke-width="0.6"/>
<polygon points="354.0,803.6 360.1,805.0 358.6,807.8" fill="#111"/>
<rect x="301.4" y="465.0" width="233.6" height="356.0" fill="none" stroke="#333" stroke-width="1.25"/>
<rect x="301.4" y="465.0" width="58.5" height="14.7" fill="#fff" stroke="#8a8a8a" stroke-width="0.8"/>
<text x="305.0" y="476.9" font-family="&quot;Liberation Sans&quot;, Arial, sans-serif" font-size="12.0" font-weight="normal" text-anchor="start" fill="#111" letter-spacing="0" stroke="#111" stroke-width="0.22">MCe3070</text>
<rect x="301.4" y="544.6" width="65.2" height="14.9" fill="#fff" stroke="#8a8a8a" stroke-width="0.8"/>
<text x="310.5" y="556.4" font-family="&quot;Liberation Sans&quot;, Arial, sans-serif" font-size="12.0" font-weight="normal" text-anchor="start" fill="#111" letter-spacing="0" stroke="#111" stroke-width="0.22">MCe5050</text>
<rect x="301.4" y="621.6" width="58.5" height="13.8" fill="#fff" stroke="#8a8a8a" stroke-width="0.8"/>
<text x="305.0" y="632.3" font-family="&quot;Liberation Sans&quot;, Arial, sans-serif" font-size="12.0" font-weight="normal" text-anchor="start" fill="#111" letter-spacing="0" stroke="#111" stroke-width="0.22">MCe7030</text>
<rect x="301.4" y="690.3" width="136.6" height="13.0" fill="#fff" stroke="#8a8a8a" stroke-width="0.8"/>
<text x="310.2" y="700.6" font-family="&quot;Liberation Sans&quot;, Arial, sans-serif" font-size="12.0" font-weight="normal" text-anchor="start" fill="#111" letter-spacing="0" stroke="#111" stroke-width="0.22">Ca/Ce co-doped MSNs</text>
<rect x="301.4" y="773.6" width="33.4" height="14.1" fill="#fff" stroke="#8a8a8a" stroke-width="0.8"/>
<text x="306.5" y="784.6" font-family="&quot;Liberation Sans&quot;, Arial, sans-serif" font-size="12.0" font-weight="normal" text-anchor="start" fill="#111" letter-spacing="0" stroke="#111" stroke-width="0.22">MTA</text>
<line x1="301.4" y1="821.0" x2="301.4" y2="825.3" stroke="#333" stroke-width="1"/>
<text x="301.4" y="836.9" font-family="&quot;Liberation Sans&quot;, Arial, sans-serif" font-size="9.7" font-weight="normal" text-anchor="middle" fill="#222" textLength="20.3" lengthAdjust="spacingAndGlyphs" stroke="#222" stroke-width="0.15">1000</text>
<line x1="340.3" y1="821.0" x2="340.3" y2="825.3" stroke="#333" stroke-width="1"/>
<text x="340.3" y="836.9" font-family="&quot;Liberation Sans&quot;, Arial, sans-serif" font-size="9.7" font-weight="normal" text-anchor="middle" fill="#222" textLength="15.3" lengthAdjust="spacingAndGlyphs" stroke="#222" stroke-width="0.15">900</text>
<line x1="379.3" y1="821.0" x2="379.3" y2="825.3" stroke="#333" stroke-width="1"/>
<text x="379.3" y="836.9" font-family="&quot;Liberation Sans&quot;, Arial, sans-serif" font-size="9.7" font-weight="normal" text-anchor="middle" fill="#222" textLength="15.3" lengthAdjust="spacingAndGlyphs" stroke="#222" stroke-width="0.15">800</text>
<line x1="418.2" y1="821.0" x2="418.2" y2="825.3" stroke="#333" stroke-width="1"/>
<text x="418.2" y="836.9" font-family="&quot;Liberation Sans&quot;, Arial, sans-serif" font-size="9.7" font-weight="normal" text-anchor="middle" fill="#222" textLength="15.3" lengthAdjust="spacingAndGlyphs" stroke="#222" stroke-width="0.15">700</text>
<line x1="457.1" y1="821.0" x2="457.1" y2="825.3" stroke="#333" stroke-width="1"/>
<text x="457.1" y="836.9" font-family="&quot;Liberation Sans&quot;, Arial, sans-serif" font-size="9.7" font-weight="normal" text-anchor="middle" fill="#222" textLength="15.3" lengthAdjust="spacingAndGlyphs" stroke="#222" stroke-width="0.15">600</text>
<line x1="496.1" y1="821.0" x2="496.1" y2="825.3" stroke="#333" stroke-width="1"/>
<text x="496.1" y="836.9" font-family="&quot;Liberation Sans&quot;, Arial, sans-serif" font-size="9.7" font-weight="normal" text-anchor="middle" fill="#222" textLength="15.3" lengthAdjust="spacingAndGlyphs" stroke="#222" stroke-width="0.15">500</text>
<line x1="535.0" y1="821.0" x2="535.0" y2="825.3" stroke="#333" stroke-width="1"/>
<text x="535.0" y="836.9" font-family="&quot;Liberation Sans&quot;, Arial, sans-serif" font-size="9.7" font-weight="normal" text-anchor="middle" fill="#222" textLength="15.3" lengthAdjust="spacingAndGlyphs" stroke="#222" stroke-width="0.15">400</text>
<line x1="320.9" y1="821.0" x2="320.9" y2="823.3" stroke="#333" stroke-width="1"/>
<line x1="359.8" y1="821.0" x2="359.8" y2="823.3" stroke="#333" stroke-width="1"/>
<line x1="398.7" y1="821.0" x2="398.7" y2="823.3" stroke="#333" stroke-width="1"/>
<line x1="437.7" y1="821.0" x2="437.7" y2="823.3" stroke="#333" stroke-width="1"/>
<line x1="476.6" y1="821.0" x2="476.6" y2="823.3" stroke="#333" stroke-width="1"/>
<line x1="515.5" y1="821.0" x2="515.5" y2="823.3" stroke="#333" stroke-width="1"/>
<text x="418.5" y="854.2" font-family="&quot;Liberation Sans&quot;, Arial, sans-serif" font-size="12.0" text-anchor="middle" fill="#1a1a1a" stroke="#1a1a1a" stroke-width="0.2">Wavenumbers (cm<tspan font-size="6.7" dy="-5.6">-1</tspan><tspan dy="5.6">)</tspan></text>
<text transform="translate(290.5 640.0) rotate(-90)" font-family="&quot;Liberation Sans&quot;, Arial, sans-serif" font-size="11.75" text-anchor="middle" fill="#1a1a1a" stroke="#1a1a1a" stroke-width="0.2">Transmittance (a.u.)</text>
<text x="306.5" y="814.8" font-family="&quot;DejaVu Sans&quot;, Verdana, sans-serif" font-size="19.2" font-weight="bold" text-anchor="start" fill="#000" >D</text>
</svg>
</body></html>
